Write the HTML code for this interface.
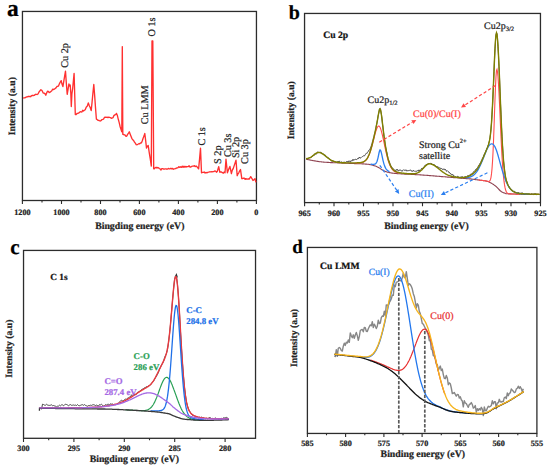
<!DOCTYPE html>
<html><head><meta charset="utf-8"><style>html,body{margin:0;padding:0;background:#fff;width:550px;height:466px;overflow:hidden}svg{display:block}text{text-rendering:geometricPrecision;stroke-width:0.22px}</style></head>
<body><svg width="550" height="466" viewBox="0 0 550 466">
<rect width="550" height="466" fill="#fff"/>
<rect x="22.45" y="11.45" width="234.0" height="189.05" fill="none" stroke="#2c2c2c" stroke-width="1.3"/>
<path d="M22.4,200.5v3.6 M61.5,200.5v3.6 M100.5,200.5v3.6 M139.4,200.5v3.6 M178.4,200.5v3.6 M217.4,200.5v3.6 M256.4,200.5v3.6 M42,200.5v1.9 M81,200.5v1.9 M120,200.5v1.9 M158.9,200.5v1.9 M197.9,200.5v1.9 M236.9,200.5v1.9 " stroke="#2c2c2c" stroke-width="1.1" fill="none"/>
<text x="22.4" y="215.0" text-anchor="middle" style="font-family:'Liberation Serif',serif;font-weight:bold;font-size:8.2px" fill="#222" stroke="#222">1200</text>
<text x="61.5" y="215.0" text-anchor="middle" style="font-family:'Liberation Serif',serif;font-weight:bold;font-size:8.2px" fill="#222" stroke="#222">1000</text>
<text x="100.5" y="215.0" text-anchor="middle" style="font-family:'Liberation Serif',serif;font-weight:bold;font-size:8.2px" fill="#222" stroke="#222">800</text>
<text x="139.4" y="215.0" text-anchor="middle" style="font-family:'Liberation Serif',serif;font-weight:bold;font-size:8.2px" fill="#222" stroke="#222">600</text>
<text x="178.4" y="215.0" text-anchor="middle" style="font-family:'Liberation Serif',serif;font-weight:bold;font-size:8.2px" fill="#222" stroke="#222">400</text>
<text x="217.4" y="215.0" text-anchor="middle" style="font-family:'Liberation Serif',serif;font-weight:bold;font-size:8.2px" fill="#222" stroke="#222">200</text>
<text x="256.4" y="215.0" text-anchor="middle" style="font-family:'Liberation Serif',serif;font-weight:bold;font-size:8.2px" fill="#222" stroke="#222">0</text>
<path d="M23.1,98.1 24,97.9 24.8,97.8 25.7,97.3 26.6,96.8 27.4,96.8 28.3,96.3 29.1,96.6 30,96.3 30.8,96.7 31.6,95.6 32.4,95.3 33.2,95.6 34,95.3 34.8,95 35.6,94.3 36.4,94.4 37.2,94.5 38,94 39,92 39.9,90.9 40.9,89.7 42,90.5 43.2,93 44.1,93.2 44.9,93.6 45.8,95.2 46.6,93.1 47.5,91.2 48.4,91.3 49.2,92.6 50.1,92.2 50.9,91.5 51.8,90.8 52.6,89.2 53.4,89.5 54.3,89.2 55.2,88.5 56,87.9 56.9,86.5 57.7,86.3 58.6,85.8 59.5,83.6 60.3,82 61.2,80.6 62,84.1 62.9,86.6 63.8,81.1 64.6,76.3 65.5,71.2 66.3,82.8 67.2,94.3 68.1,89.2 68.9,84 69.6,86 70.2,85 70.8,93 71.3,106.5 71.9,94 72.6,89 74.1,73.4 75.3,114.6 76.1,114.6 77,113.5 77.8,113.3 78.6,113 79.4,112.6 80.2,111.6 81.1,111.8 81.9,112 82.7,110.3 83.5,111 84.4,110.3 85.2,109.8 86.2,107.2 87.3,106.1 88.3,102.9 89.3,105.8 90.2,107.5 91.2,110.6 92.1,101.9 92.9,93.2 93.8,84.5 94.7,96.1 95.5,107.6 96.4,119.2 97.3,119.7 98.2,120.4 99.1,120.5 100,121 100.9,120.7 101.8,119.7 102.7,119.4 103.5,119.1 104.4,117.5 105.3,117.2 106.2,117.4 107,117.2 107.9,117.6 108.8,117.1 109.6,117.4 110.5,117.7 111.3,118.3 112.2,118 113.1,117.6 113.9,115.6 114.8,114.9 115.6,114.6 116.5,113.4 117.4,115.6 118.3,119.3 119.2,122.6 120,126.2 120.9,129 121.8,131.8 122.3,46.6 122.8,134.3 123.6,134.5 124.4,134.8 125.2,135.2 126,136.3 126.8,136 127.6,134.4 128.5,133.1 129.3,131.8 130.2,134.2 131,136.3 131.9,138.6 132.8,139.7 133.6,140.5 134.5,142.2 135.3,143.2 136.2,144.6 137.1,144.8 137.9,144.3 138.8,143.7 139.7,143.8 140.5,143 141.4,142.9 142.2,141 143.1,138.2 144,136.1 144.8,133.5 145.7,140.8 146.5,148.1 147.3,146.2 148.2,145.5 149.2,152.4 150.3,159.2 151.3,166.1 152,40.9 152.8,40.9 153.7,168.7 154.5,168.7 155.3,167.6 156.1,167.3 156.9,168 157.7,167.5 158.5,167.8 159.3,168.5 160.2,169 161,170 161.8,168.6 162.7,168.7 163.5,169 164.3,169.1 165.1,168.8 166,168.8 166.8,169.2 167.6,169.1 168.4,168.4 169.2,168.8 170.1,168.8 170.9,168.3 171.7,168.9 172.5,168.4 173.4,169.2 174.2,168.8 175,168.7 175.9,168.5 176.9,167.9 177.8,167.9 178.8,166.8 179.7,167.4 180.6,166.8 181.4,167.4 182.3,166.2 183.1,167.4 184,166.2 184.8,167.2 185.7,166.4 186.5,167 187.4,166.6 188.3,166.6 189.1,165.8 190,167 190.9,167 191.8,166.3 192.6,166.1 193.5,166.1 194.4,165.7 195.2,166.6 196.1,166 196.9,166.7 197.8,167.9 198.6,168.9 199.6,158.6 200.5,148.2 201.5,172.8 202.4,172.4 203.3,172.4 204.2,172 205.1,173.1 205.9,172.4 206.8,172.8 207.7,172.3 208.6,172.2 209.5,171.8 210.3,171.9 211.2,171.7 212.1,171.9 212.9,171.6 213.8,171.6 214.7,171 215.6,171.2 216.4,172.2 217.3,171.4 218.7,166.6 219.8,172.2 220.7,172 221.5,171.9 222.4,172.7 223.3,173.2 224.1,172 225,172.8 226,159.2 227.4,172.8 228.2,170.6 229.1,168.2 229.9,166.4 231.4,173.7 232.3,170.2 233.2,168.6 234.2,165.6 235.1,162.9 236,160.2 237.2,175.7 238,173.8 238.8,172.8 239.7,170.8 240.5,169.5 241.8,178.6 242.6,178.6 243.4,178.2 244.3,178.2 245.1,179.4 245.9,178.6 246.7,179.1 247.6,179 248.4,178.8 249.2,179.1 250.7,176.6 251.8,178.3 253,180.5 254,179.8 255,178.6 256,182.4" fill="none" stroke="#ff3030" stroke-width="1.35" stroke-linejoin="round"/>
<text x="14.8" y="106.2" text-anchor="middle" style="font-family:'Liberation Serif',serif;font-size:9.7px;font-weight:bold" fill="#222" stroke="#222" transform="rotate(-90 14.8 106.2)">Intensity (a.u)</text>
<text x="139.8" y="228.5" text-anchor="middle" style="font-family:'Liberation Serif',serif;font-size:9.8px;font-weight:bold" fill="#222" stroke="#222">Bingding energy (eV)</text>
<text x="12.9" y="16.1" text-anchor="middle" style="font-family:'Liberation Serif',serif;font-size:23.5px;font-weight:bold" fill="#000" stroke="#000">a</text>
<text x="67.8" y="67.8" text-anchor="start" style="font-family:'Liberation Serif',serif;font-size:10.2px" fill="#222" stroke="#222" transform="rotate(-90 67.8 67.8)">Cu 2p</text>
<text x="155.2" y="36.4" text-anchor="start" style="font-family:'Liberation Serif',serif;font-size:10.2px" fill="#222" stroke="#222" transform="rotate(-90 155.2 36.4)">O 1s</text>
<text x="148" y="124.2" text-anchor="start" style="font-family:'Liberation Serif',serif;font-size:10.2px" fill="#222" stroke="#222" transform="rotate(-90 148 124.2)">Cu LMM</text>
<text x="204.9" y="145.6" text-anchor="start" style="font-family:'Liberation Serif',serif;font-size:10.2px" fill="#222" stroke="#222" transform="rotate(-90 204.9 145.6)">C 1s</text>
<text x="221.4" y="163.9" text-anchor="start" style="font-family:'Liberation Serif',serif;font-size:10.2px" fill="#222" stroke="#222" transform="rotate(-90 221.4 163.9)">S 2p</text>
<text x="231" y="157.1" text-anchor="start" style="font-family:'Liberation Serif',serif;font-size:10.2px" fill="#222" stroke="#222" transform="rotate(-90 231 157.1)">Cu 3s</text>
<text x="239.1" y="158.1" text-anchor="start" style="font-family:'Liberation Serif',serif;font-size:10.2px" fill="#222" stroke="#222" transform="rotate(-90 239.1 158.1)">Si 2p</text>
<text x="247.8" y="163.9" text-anchor="start" style="font-family:'Liberation Serif',serif;font-size:10.2px" fill="#222" stroke="#222" transform="rotate(-90 247.8 163.9)">Cu 3p</text>
<rect x="304.55" y="13.45" width="235.90000000000003" height="189.15" fill="none" stroke="#2c2c2c" stroke-width="1.3"/>
<path d="M304.6,202.6v3.6 M334,202.6v3.6 M363.5,202.6v3.6 M393,202.6v3.6 M422.5,202.6v3.6 M452,202.6v3.6 M481.5,202.6v3.6 M511,202.6v3.6 M540.5,202.6v3.6 M319.3,202.6v1.9 M348.8,202.6v1.9 M378.3,202.6v1.9 M407.8,202.6v1.9 M437.2,202.6v1.9 M466.7,202.6v1.9 M496.2,202.6v1.9 M525.7,202.6v1.9 " stroke="#2c2c2c" stroke-width="1.1" fill="none"/>
<text x="304.6" y="215.9" text-anchor="middle" style="font-family:'Liberation Serif',serif;font-weight:bold;font-size:8.2px" fill="#222" stroke="#222">965</text>
<text x="334" y="215.9" text-anchor="middle" style="font-family:'Liberation Serif',serif;font-weight:bold;font-size:8.2px" fill="#222" stroke="#222">960</text>
<text x="363.5" y="215.9" text-anchor="middle" style="font-family:'Liberation Serif',serif;font-weight:bold;font-size:8.2px" fill="#222" stroke="#222">955</text>
<text x="393" y="215.9" text-anchor="middle" style="font-family:'Liberation Serif',serif;font-weight:bold;font-size:8.2px" fill="#222" stroke="#222">950</text>
<text x="422.5" y="215.9" text-anchor="middle" style="font-family:'Liberation Serif',serif;font-weight:bold;font-size:8.2px" fill="#222" stroke="#222">945</text>
<text x="452" y="215.9" text-anchor="middle" style="font-family:'Liberation Serif',serif;font-weight:bold;font-size:8.2px" fill="#222" stroke="#222">940</text>
<text x="481.5" y="215.9" text-anchor="middle" style="font-family:'Liberation Serif',serif;font-weight:bold;font-size:8.2px" fill="#222" stroke="#222">935</text>
<text x="511" y="215.9" text-anchor="middle" style="font-family:'Liberation Serif',serif;font-weight:bold;font-size:8.2px" fill="#222" stroke="#222">930</text>
<text x="540.5" y="215.9" text-anchor="middle" style="font-family:'Liberation Serif',serif;font-weight:bold;font-size:8.2px" fill="#222" stroke="#222">925</text>
<path d="M306,159.3 306.5,159.3 307,159.4 307.5,159.5 308,159.6 308.5,159.7 309,159.8 309.5,159.9 310,160 310.5,160.1 311,160.2 311.5,160.3 312,160.4 312.5,160.5 313,160.6 313.5,160.7 314,160.8 314.5,160.9 315,160.9 315.5,161 316,161.1 316.5,161.2 317,161.3 317.5,161.4 318,161.4 318.5,161.5 319,161.6 319.5,161.7 320,161.7 320.5,161.8 321,161.8 321.5,161.9 322,162 322.5,162 323,162 323.5,162.1 324,162.1 324.5,162.2 325,162.2 325.5,162.2 326,162.3 326.5,162.3 327,162.4 327.5,162.4 328,162.4 328.5,162.4 329,162.5 329.5,162.5 330,162.5 330.5,162.6 331,162.6 331.5,162.6 332,162.6 332.5,162.6 333,162.7 333.5,162.7 334,162.7 334.5,162.7 335,162.8 335.5,162.8 336,162.8 336.5,162.8 337,162.8 337.5,162.9 338,162.9 338.5,162.9 339,162.9 339.5,162.9 340,163 340.5,163 341,163 341.5,163 342,163.1 342.5,163.1 343,163.1 343.5,163.1 344,163.2 344.5,163.2 345,163.2 345.5,163.2 346,163.2 346.5,163.3 347,163.3 347.5,163.3 348,163.3 348.5,163.3 349,163.4 349.5,163.4 350,163.4 350.5,163.4 351,163.4 351.5,163.5 352,163.5 352.5,163.5 353,163.5 353.5,163.5 354,163.5 354.5,163.6 355,163.6 355.5,163.6 356,163.6 356.5,163.6 357,163.7 357.5,163.7 358,163.7 358.5,163.7 359,163.7 359.5,163.8 360,163.8 360.5,163.8 361,163.8 361.5,163.8 362,163.9 362.5,163.9 363,163.9 363.5,163.9 364,164 364.5,164 365,164 365.5,164.1 366,164.1 366.5,164.1 367,164.2 367.5,164.2 368,164.3 368.5,164.3 369,164.4 369.5,164.5 370,164.6 370.5,164.7 371,164.8 371.5,164.9 372,165 372.5,165.1 373,165.3 373.5,165.4 374,165.6 374.5,165.7 375,165.9 375.5,166.1 376,166.3 376.5,166.5 377,166.7 377.5,167 378,167.2 378.5,167.5 379,167.8 379.5,168.1 380,168.4 380.5,168.8 381,169.1 381.5,169.5 382,169.8 382.5,170.1 383,170.3 383.5,170.5 384,170.7 384.5,171 385,171.2 385.5,171.4 386,171.6 386.5,171.7 387,171.9 387.5,172.1 388,172.2 388.5,172.3 389,172.5 389.5,172.6 390,172.7 390.5,172.8 391,172.9 391.5,173 392,173.1 392.5,173.1 393,173.2 393.5,173.3 394,173.3 394.5,173.4 395,173.4 395.5,173.5 396,173.5 396.5,173.5 397,173.6 397.5,173.6 398,173.7 398.5,173.7 399,173.7 399.5,173.8 400,173.8 400.5,173.8 401,173.9 401.5,173.9 402,173.9 402.5,174 403,174 403.5,174 404,174 404.5,174.1 405,174.1 405.5,174.1 406,174.1 406.5,174.2 407,174.2 407.5,174.2 408,174.2 408.5,174.3 409,174.3 409.5,174.3 410,174.3 410.5,174.3 411,174.4 411.5,174.4 412,174.4 412.5,174.4 413,174.5 413.5,174.5 414,174.5 414.5,174.5 415,174.6 415.5,174.6 416,174.6 416.5,174.7 417,174.7 417.5,174.7 418,174.7 418.5,174.8 419,174.8 419.5,174.8 420,174.9 420.5,174.9 421,174.9 421.5,175 422,175 422.5,175 423,175.1 423.5,175.1 424,175.1 424.5,175.2 425,175.2 425.5,175.3 426,175.3 426.5,175.3 427,175.4 427.5,175.4 428,175.4 428.5,175.5 429,175.5 429.5,175.6 430,175.6 430.5,175.6 431,175.7 431.5,175.7 432,175.8 432.5,175.8 433,175.9 433.5,175.9 434,175.9 434.5,176 435,176 435.5,176.1 436,176.1 436.5,176.1 437,176.2 437.5,176.2 438,176.3 438.5,176.3 439,176.3 439.5,176.4 440,176.4 440.5,176.5 441,176.5 441.5,176.6 442,176.6 442.5,176.6 443,176.7 443.5,176.7 444,176.8 444.5,176.8 445,176.8 445.5,176.9 446,176.9 446.5,177 447,177 447.5,177.1 448,177.1 448.5,177.1 449,177.2 449.5,177.2 450,177.3 450.5,177.3 451,177.4 451.5,177.4 452,177.4 452.5,177.5 453,177.5 453.5,177.6 454,177.6 454.5,177.6 455,177.7 455.5,177.7 456,177.8 456.5,177.8 457,177.8 457.5,177.9 458,177.9 458.5,178 459,178 459.5,178 460,178.1 460.5,178.1 461,178.2 461.5,178.2 462,178.2 462.5,178.3 463,178.3 463.5,178.4 464,178.4 464.5,178.4 465,178.5 465.5,178.5 466,178.6 466.5,178.6 467,178.6 467.5,178.7 468,178.7 468.5,178.8 469,178.8 469.5,178.9 470,178.9 470.5,178.9 471,179 471.5,179.1 472,179.1 472.5,179.2 473,179.2 473.5,179.3 474,179.4 474.5,179.4 475,179.5 475.5,179.6 476,179.7 476.5,179.7 477,179.8 477.5,179.9 478,179.9 478.5,180 479,180 479.5,180.1 480,180.2 480.5,180.2 481,180.3 481.5,180.3 482,180.4 482.5,180.5 483,180.5 483.5,180.6 484,180.7 484.5,180.7 485,180.8 485.5,180.9 486,181 486.5,181.1 487,181.2 487.5,181.4 488,181.5 488.5,181.7 489,182 489.5,182.2 490,182.5 490.5,182.8 491,183 491.5,183.3 492,183.6 492.5,183.9 493,184.2 493.5,184.5 494,184.9 494.5,185.2 495,185.6 495.5,186 496,186.4 496.5,186.9 497,187.4 497.5,187.9 498,188.4 498.5,189 499,189.5 499.5,190 500,190.5 500.5,191 501,191.3 501.5,191.7 502,192 502.5,192.3 503,192.5 503.5,192.7 504,192.9 504.5,193 505,193.2 505.5,193.5 506,193.7 506.5,193.8 507,193.8 507.5,193.8 508,193.8 508.5,193.9 509,193.9 509.5,193.9 510,193.9 510.5,193.9 511,193.9 511.5,194 512,194 512.5,194 513,194 513.5,194 514,194 514.5,194 515,194 515.5,194 516,194.1 516.5,194.1 517,194.1 517.5,194.1 518,194.1 518.5,194.1 519,194.1 519.5,194.1 520,194.1 520.5,194.1 521,194.1 521.5,194.2 522,194.2 522.5,194.2 523,194.2 523.5,194.2 524,194.2 524.5,194.2 525,194.2 525.5,194.2 526,194.2 526.5,194.2 527,194.2 527.5,194.2 528,194.2 528.5,194.3 529,194.3 529.5,194.3 530,194.3 530.5,194.3 531,194.3 531.5,194.3 532,194.3 532.5,194.3 533,194.3 533.5,194.3 534,194.3 534.5,194.3 535,194.3 535.5,194.3 536,194.4 536.5,194.4 537,194.4 537.5,194.4 538,194.4 538.5,194.4 539,194.4 539.5,194.4" fill="none" stroke="#8e4250" stroke-width="1.1"/>
<path d="M306,158.5 306.5,158.5 307,158.5 307.5,159 308,158.7 308.5,158.4 309,157.8 309.5,157.2 310,158 310.5,157.8 311,157 311.5,157 312,156.7 312.5,156.4 313,156 313.5,155 314,155.5 314.5,153.8 315,154.4 315.5,153.9 316,153.7 316.5,153.9 317,153.5 317.5,152.1 318,151.7 318.5,152.8 319,152 319.5,152.5 320,153 320.5,152.1 321,152.1 321.5,153.4 322,153.5 322.5,153.7 323,154.2 323.5,154.1 324,154.2 324.5,155.2 325,155.2 325.5,155.3 326,156.7 326.5,156.8 327,157.4 327.5,157.2 328,157.8 328.5,158 329,158.4 329.5,159.2 330,159.1 330.5,160 331,160.2 331.5,161.3 332,160 332.5,161.2 333,161 333.5,161.2 334,160.8 334.5,161.4 335,162 335.5,161.8 336,162 336.5,161.9 337,162.6 337.5,162.2 338,161.2 338.5,162 339,161.4 339.5,160.9 340,162.1 340.5,163 341,162.4 341.5,161.8 342,161.9 342.5,162.9 343,162.4 343.5,162.3 344,162.2 344.5,162.2 345,162.5 345.5,162.4 346,162.1 346.5,161.5 347,162.1 347.5,161.5 348,162.2 348.5,161 349,161.4 349.5,161.4 350,160.7 350.5,161.9 351,161.6 351.5,160.6 352,161 352.5,160.7 353,159.2 353.5,160.3 354,160 354.5,159.9 355,159.2 355.5,159.3 356,159.2 356.5,159.6 357,159 357.5,158.7 358,159.1 358.5,158 359,157.9 359.5,157 360,158.3 360.5,157.9 361,157.6 361.5,157.3 362,156.8 362.5,156.6 363,156.1 363.5,155.8 364,155.6 364.5,155.9 365,155.1 365.5,154.4 366,153.6 366.5,153.1 367,153.5 367.5,152.5 368,151.8 368.5,151 369,150 369.5,149.7 370,149.3 370.5,147.7 371,146.6 371.5,145.2 372,143.8 372.5,141.4 373,140.2 373.5,138 374,136.7 374.5,133.9 375,132.4 375.5,130.6 376,127.4 376.5,124.9 377,122.6 377.5,119.8 378,116.4 378.5,114.1 379,112.2 379.5,109.1 380,108.5 380.5,109.3 381,112.2 381.5,114.8 382,118.8 382.5,124 383,127.3 383.5,132.3 384,136.4 384.5,139.5 385,143.1 385.5,146.8 386,148.7 386.5,151.2 387,153.2 387.5,156 388,158.6 388.5,160.1 389,160.9 389.5,162.3 390,163.7 390.5,165.1 391,165.9 391.5,166.9 392,167.6 392.5,167.9 393,168.6 393.5,169.1 394,169.3 394.5,169.8 395,170.7 395.5,170.3 396,170.2 396.5,169.5 397,170.5 397.5,169.5 398,169.8 398.5,170.8 399,170.8 399.5,170.4 400,169.7 400.5,170.3 401,170.1 401.5,170.7 402,171.4 402.5,170.5 403,170 403.5,169.8 404,170.3 404.5,170.3 405,169.8 405.5,170.4 406,169.8 406.5,170.9 407,170.9 407.5,170.9 408,170.2 408.5,170.7 409,170.5 409.5,170.4 410,170.5 410.5,170.1 411,170.1 411.5,171.2 412,170.8 412.5,171.1 413,171.5 413.5,170.3 414,170.8 414.5,171.3 415,171.4 415.5,171.1 416,171.7 416.5,171.3 417,170.6 417.5,170.7 418,171.3 418.5,171 419,169.8 419.5,171 420,170.4 420.5,170.4 421,169.3 421.5,169 422,168.2 422.5,169.4 423,167.7 423.5,168.1 424,166.6 424.5,166.5 425,165.2 425.5,165.3 426,165.5 426.5,164.1 427,164.9 427.5,164.2 428,163.4 428.5,163.5 429,163.4 429.5,163.6 430,163.4 430.5,163.4 431,163.8 431.5,163.6 432,163.6 432.5,164.4 433,165 433.5,164.1 434,165.1 434.5,165 435,165.2 435.5,166.3 436,165.9 436.5,167.1 437,166.3 437.5,167.1 438,167.1 438.5,167.1 439,167.9 439.5,167.8 440,168.4 440.5,168.3 441,168 441.5,168.6 442,168.9 442.5,169.5 443,168.8 443.5,169.4 444,168.8 444.5,170.1 445,169.6 445.5,169.5 446,170.5 446.5,171.4 447,170.5 447.5,171 448,171.5 448.5,171.7 449,172.7 449.5,172.6 450,173 450.5,173.9 451,173.7 451.5,174.6 452,174.3 452.5,174.5 453,174.5 453.5,176.5 454,175.8 454.5,176.3 455,176.4 455.5,176.6 456,176.8 456.5,177.7 457,176.6 457.5,176.4 458,176.8 458.5,176.7 459,177.7 459.5,177.8 460,177 460.5,176.9 461,177.4 461.5,178.2 462,176.3 462.5,177.7 463,177 463.5,177.9 464,176.9 464.5,177.1 465,176.5 465.5,176.6 466,177.5 466.5,177.1 467,176.4 467.5,176 468,175.3 468.5,175.7 469,175.6 469.5,175.3 470,175 470.5,174.2 471,174.3 471.5,173.9 472,174.1 472.5,173.9 473,172.6 473.5,171.8 474,171.6 474.5,170.9 475,170.3 475.5,170.1 476,169.1 476.5,169.2 477,168.2 477.5,167.7 478,166.8 478.5,165.8 479,164.9 479.5,164.4 480,163.4 480.5,162.9 481,161.8 481.5,160.2 482,159.8 482.5,158.1 483,157.4 483.5,156.4 484,154.5 484.5,154.3 485,153.2 485.5,151.9 486,150.6 486.5,149.5 487,148.1 487.5,147.2 488,145.7 488.5,144.6 489,142.3 489.5,140.7 490,137.8 490.5,133.9 491,128.8 491.5,123 492,114.2 492.5,105.8 493,95 493.5,83.4 494,71.3 494.5,59 495,48.6 495.5,40.6 496,35 496.5,32.9 497,33.8 497.5,39.2 498,46.6 498.5,55.8 499,66.4 499.5,77.6 500,91.4 500.5,103.5 501,114.5 501.5,127.1 502,136.4 502.5,145.5 503,153.5 503.5,160.8 504,165.4 504.5,170.1 505,174.4 505.5,177.4 506,179.1 506.5,180.9 507,182 507.5,183.6 508,185.2 508.5,186.1 509,186.9 509.5,188 510,187.9 510.5,188.8 511,189.7 511.5,190.2 512,190.9 512.5,191 513,191 513.5,191.6 514,191.3 514.5,191.3 515,192.5 515.5,192.5 516,192.8 516.5,192.1 517,192.8 517.5,192.8 518,192.8 518.5,192.3 519,193.2 519.5,193.9 520,193.7 520.5,193.3 521,193.6 521.5,194 522,192.5 522.5,193.7 523,194 523.5,194.1 524,194.6 524.5,194.4 525,194 525.5,194.1 526,194.3 526.5,193.7 527,194 527.5,194.4 528,194.9 528.5,194 529,194 529.5,194.1 530,194.7 530.5,194.1 531,194.7 531.5,193.7 532,194 532.5,194 533,194.5 533.5,194.6 534,193.5 534.5,193.8 535,194.3 535.5,193.9 536,193.5 536.5,194.7 537,194.4 537.5,194.4 538,194 538.5,194.7 539,194.1 539.5,194.8" fill="none" stroke="#3a3a3a" stroke-width="0.9"/>
<path d="M355.5,163 356,163 356.5,163 357,163 357.5,163 358,162.9 358.5,162.9 359,162.9 359.5,162.8 360,162.8 360.5,162.7 361,162.7 361.5,162.6 362,162.5 362.5,162.3 363,162.2 363.5,162 364,161.7 364.5,161.4 365,161.1 365.5,160.7 366,160.2 366.5,159.6 367,158.9 367.5,158.1 368,157.2 368.5,156.2 369,155.1 369.5,153.9 370,152.5 370.5,151 371,149.4 371.5,147.7 372,145.9 372.5,144 373,142.1 373.5,140.1 374,138.1 374.5,136.1 375,134.2 375.5,132.4 376,130.7 376.5,129.3 377,128 377.5,127 378,126.3 378.5,126 379,126 379.5,126.5 380,127.3 380.5,128.4 381,129.9 381.5,131.6 382,133.5 382.5,135.6 383,137.9 383.5,140.2 384,142.5 384.5,144.9 385,147.3 385.5,149.7 386,151.9 386.5,154.1 387,156.1 387.5,158 388,159.8 388.5,161.5 389,162.9 389.5,164.3 390,165.5 390.5,166.6 391,167.5 391.5,168.3 392,169 392.5,169.7 393,170.2 393.5,170.7 394,171 394.5,171.4 395,171.7 395.5,171.9 396,172.1 396.5,172.3 397,172.4 397.5,172.6 398,172.7 398.5,172.8 399,172.9 399.5,173" fill="none" stroke="#ff4d4d" stroke-width="1.1"/>
<path d="M478.5,180 479,180 479.5,180.1 480,180.2 480.5,180.2 481,180.3 481.5,180.3 482,180.4 482.5,180.5 483,180.5 483.5,180.6 484,180.7 484.5,180.7 485,180.8 485.5,180.9 486,181 486.5,181.1 487,181.2 487.5,181.3 488,181.4 488.5,181.5 489,181.5 489.5,181.2 490,180.6 490.5,179.4 491,177.3 491.5,173.9 492,168.9 492.5,161.9 493,152.7 493.5,141.3 494,128 494.5,113.6 495,99.3 495.5,86.4 496,76.4 496.5,70.5 497,69.4 497.5,71.9 498,76.8 498.5,84.1 499,93.1 499.5,103.5 500,114.6 500.5,125.9 501,136.8 501.5,147 502,156.3 502.5,164.3 503,171.1 503.5,176.7 504,181.2 504.5,184.7 505,187.4 505.5,189.6 506,191.1 506.5,192.1 507,192.7 507.5,193.1 508,193.4 508.5,193.6 509,193.7 509.5,193.8 510,193.9 510.5,193.9 511,193.9 511.5,194 512,194 512.5,194 513,194 513.5,194 514,194 514.5,194 515,194 515.5,194 516,194.1 516.5,194.1 517,194.1 517.5,194.1 518,194.1 518.5,194.1 519,194.1 519.5,194.1" fill="none" stroke="#ff4d4d" stroke-width="1.1"/>
<path d="M370.5,164.1 371,164.2 371.5,164.2 372,164.3 372.5,164.3 373,164.3 373.5,164.3 374,164.3 374.5,164.2 375,164.1 375.5,163.8 376,163.3 376.5,162.5 377,161.4 377.5,159.8 378,157.8 378.5,155.5 379,153 379.5,151 380,149.9 380.5,150.2 381,151.5 381.5,153.4 382,155.7 382.5,158 383,160.3 383.5,162.3 384,164.1 384.5,165.6 385,166.9 385.5,167.9 386,168.8 386.5,169.4 387,170 387.5,170.4 388,170.8 388.5,171.1 389,171.4 389.5,171.6" fill="none" stroke="#2b7ff0" stroke-width="1.3"/>
<path d="M465.5,177.8 466,177.8 466.5,177.8 467,177.7 467.5,177.6 468,177.6 468.5,177.5 469,177.3 469.5,177.2 470,177.1 470.5,176.9 471,176.7 471.5,176.4 472,176.2 472.5,175.9 473,175.6 473.5,175.2 474,174.8 474.5,174.4 475,173.9 475.5,173.3 476,172.7 476.5,172.1 477,171.4 477.5,170.6 478,169.8 478.5,169 479,168 479.5,167 480,166 480.5,164.9 481,163.8 481.5,162.6 482,161.4 482.5,160.2 483,159 483.5,157.7 484,156.4 484.5,155.2 485,153.9 485.5,152.7 486,151.5 486.5,150.3 487,149.2 487.5,148.2 488,147.2 488.5,146.4 489,145.7 489.5,145.1 490,144.6 490.5,144.2 491,144 491.5,143.8 492,143.8 492.5,144 493,144.3 493.5,144.7 494,145.3 494.5,146 495,146.9 495.5,148 496,149.2 496.5,150.5 497,152 497.5,153.6 498,155.3 498.5,157.1 499,158.9 499.5,160.7 500,162.5 500.5,164.4 501,166.2 501.5,167.9 502,169.6 502.5,171.3 503,172.9 503.5,174.4 504,175.9 504.5,177.3 505,178.6 505.5,180.1 506,181.4 506.5,182.5 507,183.5 507.5,184.5 508,185.4 508.5,186.2 509,186.9 509.5,187.7 510,188.3 510.5,188.9 511,189.5 511.5,189.9 512,190.4 512.5,190.8 513,191.2 513.5,191.5 514,191.8 514.5,192.1 515,192.3 515.5,192.5 516,192.7 516.5,192.9 517,193 517.5,193.1 518,193.2 518.5,193.3 519,193.4 519.5,193.5 520,193.6 520.5,193.6 521,193.7 521.5,193.7 522,193.8 522.5,193.8 523,193.8 523.5,193.9 524,193.9 524.5,193.9 525,193.9 525.5,193.9 526,194 526.5,194 527,194 527.5,194 528,194 528.5,194 529,194.1 529.5,194.1" fill="none" stroke="#2b7ff0" stroke-width="1.3"/>
<path d="M306,158.6 306.5,158.6 307,158.5 307.5,158.5 308,158.3 308.5,158.2 309,158 309.5,157.8 310,157.6 310.5,157.4 311,157.1 311.5,156.7 312,156.4 312.5,156 313,155.6 313.5,155.2 314,154.8 314.5,154.4 315,154 315.5,153.7 316,153.3 316.5,153 317,152.8 317.5,152.6 318,152.5 318.5,152.5 319,152.5 319.5,152.5 320,152.7 320.5,152.8 321,153 321.5,153.3 322,153.5 322.5,153.8 323,154.1 323.5,154.5 324,154.9 324.5,155.2 325,155.6 325.5,156 326,156.4 326.5,156.9 327,157.3 327.5,157.7 328,158.1 328.5,158.4 329,158.8 329.5,159.2 330,159.5 330.5,159.8 331,160.1 331.5,160.4 332,160.6 332.5,160.9 333,161.1 333.5,161.3 334,161.4 334.5,161.6 335,161.8 335.5,161.9 336,162 336.5,162.1 337,162.2 337.5,162.3 338,162.3 338.5,162.4 339,162.5 339.5,162.5 340,162.6 340.5,162.6 341,162.6 341.5,162.7 342,162.7 342.5,162.7 343,162.8 343.5,162.8 344,162.8 344.5,162.8 345,162.8 345.5,162.8 346,162.9 346.5,162.9 347,162.9 347.5,162.9 348,162.9 348.5,162.9 349,162.9 349.5,162.9 350,162.9 350.5,162.9 351,162.9 351.5,162.9 352,162.9 352.5,162.9 353,162.9 353.5,162.9 354,162.9 354.5,162.9 355,162.9 355.5,162.9 356,162.9 356.5,162.9 357,162.9 357.5,162.8 358,162.8 358.5,162.8 359,162.7 359.5,162.7 360,162.7 360.5,162.6 361,162.5 361.5,162.4 362,162.3 362.5,162.1 363,162 363.5,161.8 364,161.5 364.5,161.2 365,160.8 365.5,160.4 366,159.9 366.5,159.3 367,158.6 367.5,157.8 368,156.9 368.5,155.8 369,154.7 369.5,153.4 370,152 370.5,150.5 371,148.8 371.5,147 372,145.2 372.5,143.2 373,141.1 373.5,139 374,136.8 374.5,134.6 375,132.3 375.5,130 376,127.7 376.5,125.2 377,122.6 377.5,119.8 378,116.9 378.5,114 379,111.3 379.5,109.3 380,108.7 380.5,109.8 381,112.2 381.5,115.5 382,119.4 382.5,123.6 383,127.8 383.5,131.9 384,135.9 384.5,139.6 385,143 385.5,146.2 386,149.1 386.5,151.8 387,154.2 387.5,156.4 388,158.4 388.5,160.2 389,161.8 389.5,163.3 390,164.6 390.5,165.7 391,166.7 391.5,167.6 392,168.4 392.5,169 393,169.6 393.5,170.1 394,170.5 394.5,170.9 395,171.2 395.5,171.5 396,171.7 396.5,171.9 397,172.1 397.5,172.2 398,172.4 398.5,172.5 399,172.6 399.5,172.7 400,172.8 400.5,172.9 401,172.9 401.5,173 402,173.1 402.5,173.1 403,173.2 403.5,173.3 404,173.3 404.5,173.4 405,173.4 405.5,173.5 406,173.5 406.5,173.5 407,173.6 407.5,173.6 408,173.7 408.5,173.7 409,173.7 409.5,173.8 410,173.8 410.5,173.8 411,173.8 411.5,173.8 412,173.8 412.5,173.8 413,173.8 413.5,173.8 414,173.7 414.5,173.7 415,173.6 415.5,173.5 416,173.4 416.5,173.3 417,173.1 417.5,172.9 418,172.7 418.5,172.4 419,172.1 419.5,171.8 420,171.4 420.5,171 421,170.6 421.5,170.1 422,169.7 422.5,169.1 423,168.6 423.5,168.1 424,167.5 424.5,167 425,166.5 425.5,166 426,165.5 426.5,165.1 427,164.7 427.5,164.4 428,164.1 428.5,164 429,163.9 429.5,163.8 430,163.9 430.5,163.9 431,164.1 431.5,164.2 432,164.4 432.5,164.6 433,164.8 433.5,165 434,165.3 434.5,165.6 435,165.9 435.5,166.3 436,166.6 436.5,167 437,167.4 437.5,167.8 438,168.2 438.5,168.6 439,169 439.5,169.4 440,169.8 440.5,170.2 441,170.6 441.5,171 442,171.4 442.5,171.8 443,172.1 443.5,172.5 444,172.8 444.5,173.2 445,173.5 445.5,173.8 446,174.1 446.5,174.3 447,174.6 447.5,174.8 448,175.1 448.5,175.3 449,175.5 449.5,175.7 450,175.9 450.5,176 451,176.2 451.5,176.3 452,176.4 452.5,176.6 453,176.7 453.5,176.8 454,176.9 454.5,177 455,177.1 455.5,177.1 456,177.2 456.5,177.3 457,177.3 457.5,177.4 458,177.4 458.5,177.5 459,177.5 459.5,177.5 460,177.6 460.5,177.6 461,177.6 461.5,177.6 462,177.6 462.5,177.5 463,177.5 463.5,177.5 464,177.4 464.5,177.4 465,177.3 465.5,177.2 466,177.1 466.5,177 467,176.8 467.5,176.7 468,176.5 468.5,176.3 469,176.1 469.5,175.8 470,175.6 470.5,175.3 471,175 471.5,174.7 472,174.4 472.5,174 473,173.6 473.5,173.2 474,172.8 474.5,172.3 475,171.8 475.5,171.3 476,170.7 476.5,170.1 477,169.5 477.5,168.8 478,168 478.5,167.2 479,166.4 479.5,165.5 480,164.6 480.5,163.6 481,162.6 481.5,161.5 482,160.4 482.5,159.3 483,158.1 483.5,156.9 484,155.7 484.5,154.5 485,153.3 485.5,152.2 486,151 486.5,149.8 487,148.6 487.5,147.4 488,146.1 488.5,144.6 489,142.8 489.5,140.6 490,137.8 490.5,134 491,129 491.5,122.7 492,114.9 492.5,105.6 493,94.9 493.5,83.2 494,71.1 494.5,59.3 495,48.8 495.5,40.3 496,34.8 496.5,32.8 497,34.5 497.5,39 498,46.1 498.5,55.3 499,66.3 499.5,78.3 500,90.9 500.5,103.5 501,115.6 501.5,126.9 502,137.1 502.5,146 503,153.7 503.5,160.2 504,165.6 504.5,170 505,173.6 505.5,176.7 506,179.2 506.5,181 507,182.6 507.5,183.9 508,185 508.5,186 509,186.8 509.5,187.6 510,188.2 510.5,188.9 511,189.4 511.5,189.9 512,190.4 512.5,190.8 513,191.1 513.5,191.5 514,191.8 514.5,192 515,192.3 515.5,192.5 516,192.7 516.5,192.8 517,193 517.5,193.1 518,193.2 518.5,193.3 519,193.4 519.5,193.5 520,193.5 520.5,193.6 521,193.6 521.5,193.7 522,193.7 522.5,193.8 523,193.8 523.5,193.8 524,193.9 524.5,193.9 525,193.9 525.5,193.9 526,193.9 526.5,194 527,194 527.5,194 528,194 528.5,194 529,194 529.5,194 530,194.1 530.5,194.1 531,194.1 531.5,194.1 532,194.1 532.5,194.1 533,194.1 533.5,194.1 534,194.2 534.5,194.2 535,194.2 535.5,194.2 536,194.2 536.5,194.2 537,194.2 537.5,194.2 538,194.2 538.5,194.2 539,194.3 539.5,194.3" fill="none" stroke="#808000" stroke-width="1.4"/>
<text x="294.1" y="110.2" text-anchor="middle" style="font-family:'Liberation Serif',serif;font-size:9.7px;font-weight:bold" fill="#222" stroke="#222" transform="rotate(-90 294.1 110.2)">Intensity (a.u)</text>
<text x="426.5" y="228.6" text-anchor="middle" style="font-family:'Liberation Serif',serif;font-size:9.8px;font-weight:bold" fill="#222" stroke="#222">Binding energy (eV)</text>
<text x="294.4" y="19" text-anchor="middle" style="font-family:'Liberation Serif',serif;font-size:20px;font-weight:bold" fill="#000" stroke="#000">b</text>
<text x="323.2" y="38" text-anchor="start" style="font-family:'Liberation Serif',serif;font-size:9.7px;font-weight:bold" fill="#111" stroke="#111">Cu 2p</text>
<text x="367.5" y="103.2" style="font-family:'Liberation Serif',serif;font-size:10px" fill="#222" stroke="#222">Cu2p<tspan font-size="6.6" dy="2.2">1/2</tspan></text>
<text x="484" y="28.7" style="font-family:'Liberation Serif',serif;font-size:10px" fill="#222" stroke="#222">Cu2p<tspan font-size="6.6" dy="2.2">3/2</tspan></text>
<text x="413" y="116.7" text-anchor="start" style="font-family:'Liberation Serif',serif;font-size:10px" fill="#ff4545" stroke="#ff4545">Cu(0)/Cu(I)</text>
<text x="419" y="147.8" style="font-family:'Liberation Serif',serif;font-size:10px" fill="#222" stroke="#222">Strong Cu<tspan font-size="6.4" dy="-4.4">2+</tspan></text>
<text x="419" y="159" text-anchor="start" style="font-family:'Liberation Serif',serif;font-size:10px" fill="#222" stroke="#222">satellite</text>
<text x="408.8" y="196.5" text-anchor="start" style="font-family:'Liberation Serif',serif;font-size:10px" fill="#2b7ff0" stroke="#2b7ff0">Cu(II)</text>
<path d="M379.3,142.2 L412.4,122.2" stroke="#ff4545" stroke-width="1.2" stroke-dasharray="3.2 2.2" fill="none"/>
<path d="M416.3,119.9 L413.6,124.1 L411.3,120.3 Z" fill="#ff4545"/>
<path d="M495.4,85.6 L464.8,105.2" stroke="#ff4545" stroke-width="1.2" stroke-dasharray="3.2 2.2" fill="none"/>
<path d="M461,107.6 L463.6,103.3 L466,107 Z" fill="#ff4545"/>
<path d="M379.8,165.3 L396.7,190.2" stroke="#2b7ff0" stroke-width="1.2" stroke-dasharray="3.2 2.2" fill="none"/>
<path d="M399.2,193.9 L394.9,191.4 L398.5,188.9 Z" fill="#2b7ff0"/>
<path d="M487.4,172.8 L444.9,193" stroke="#2b7ff0" stroke-width="1.2" stroke-dasharray="3.2 2.2" fill="none"/>
<path d="M440.8,194.9 L443.9,191 L445.8,195 Z" fill="#2b7ff0"/>
<rect x="23.53" y="250.43" width="232.0" height="187.87" fill="none" stroke="#2c2c2c" stroke-width="1.3"/>
<path d="M23.5,438.3v3.6 M73.9,438.3v3.6 M124.3,438.3v3.6 M174.7,438.3v3.6 M225.1,438.3v3.6 M48.7,438.3v1.9 M99.1,438.3v1.9 M149.5,438.3v1.9 M199.9,438.3v1.9 " stroke="#2c2c2c" stroke-width="1.1" fill="none"/>
<text x="23.5" y="451.0" text-anchor="middle" style="font-family:'Liberation Serif',serif;font-weight:bold;font-size:8.2px" fill="#222" stroke="#222">300</text>
<text x="73.9" y="451.0" text-anchor="middle" style="font-family:'Liberation Serif',serif;font-weight:bold;font-size:8.2px" fill="#222" stroke="#222">295</text>
<text x="124.3" y="451.0" text-anchor="middle" style="font-family:'Liberation Serif',serif;font-weight:bold;font-size:8.2px" fill="#222" stroke="#222">290</text>
<text x="174.7" y="451.0" text-anchor="middle" style="font-family:'Liberation Serif',serif;font-weight:bold;font-size:8.2px" fill="#222" stroke="#222">285</text>
<text x="225.1" y="451.0" text-anchor="middle" style="font-family:'Liberation Serif',serif;font-weight:bold;font-size:8.2px" fill="#222" stroke="#222">280</text>
<path d="M41.5,409.4 42.5,404.2 43.5,404.5 44.5,405.1 45.5,405.2 46.5,404.3 47.5,405 48.5,405.3 49.5,405.4 50.5,405.2 51.5,404.8 52.5,405.7 53.5,405.5 54.5,405.9 55.5,406.2 56.5,406.8 57.5,406.2 58.5,406.1 59.5,405.2 60.5,405.8 61.5,404.9 62.5,404.9 63.5,405.8 64.5,404.8 65.5,404.3 66.5,404.5 67.5,405 68.5,405.7 69.5,405 70.5,404.6 71.5,405.3 72.5,405.2 73.5,405 74.5,405.3 75.5,405.1 76.5,405.5 77.5,404.6 78.5,405.5 79.5,405.7 80.5,405.3 81.5,404.9 82.5,404.7 83.5,405.3 84.5,404.6 85.5,405.4 86.5,405.8 87.5,406.2 88.5,405.5 89.5,405.5 90.5,405.2 91.5,405.4 92.5,404.9 93.5,404.7 94.5,405 95.5,405.5 96.5,405.1 97.5,405.5 98.5,406.1 99.5,404.6 100.5,404.9 101.5,404.3 102.5,405.1 103.5,406.2 104.5,405.9 105.5,404.6 106.5,405 107.5,404.4 108.5,404.3 109.5,405.1 110.5,403.7 111.5,404.2 112.5,404 113.5,404.7 114.5,404.4 115.5,404.7 116.5,404.5 117.5,403.9 118.5,402.8 119.5,401.9 120.5,401 121.5,400.3 122.5,400.8 123.5,400.6 124.5,399.6 125.5,399.1 126.5,399.4 127.5,398.1 128.5,397.7 129.5,397.1 130.5,396.9 131.5,394.9 132.5,395.3 133.5,394.4 134.5,394.1 135.5,395.1 136.5,394 137.5,392.3 138.5,391.9 139.5,391.4 140.5,390.7 141.5,389.6 142.5,389.1 143.5,388.7 144.5,387.7 145.5,387.4 146.5,386.7 147.5,386.5 148.5,385.9 149.5,385.6 150.5,385 151.5,383.4 152.5,382 153.5,381.2 154.5,379.3 155.5,377.6 156.5,376.1 157.5,374.2 158.5,372.4 159.5,369 160.5,367.5 161.5,365 162.5,363.6 163.5,361.4 164.5,357.8 165.5,355.4 166.5,353.3 167.5,349.3 168.5,342.7 169.5,334.3 170.5,324.2 171.5,312.4 172.5,300.7 173.5,289.7 174.5,279.4 175.5,276.3 176.5,276.6 177.5,284.8 178.5,297.3 179.5,313 180.5,331.6 181.5,348.4 182.5,363.6 183.5,376.4 184.5,387.2 185.5,395.4 186.5,402 187.5,405.9 188.5,409.1 189.5,411.1 190.5,412.4 191.5,413.9 192.5,415.4 193.5,415.4 194.5,416 195.5,416.6 196.5,417.1 197.5,417 198.5,418.1 199.5,417.2 200.5,417.6 201.5,417.1 202.5,417.7 203.5,417.8 204.5,418 205.5,419.2 206.5,418.3 207.5,418.9 208.5,418.2 209.5,417.5 210.5,417.8 211.5,418.6 212.5,418.4 213.5,418.6 214.5,418.5 215.5,417.8 216.5,418.9 217.5,418.5 218.5,419.5 219.5,419 220.5,418.6 221.5,418.4 222.5,418.5 223.5,417.8 224.5,417.9 225.5,417.7 226.5,417.4 227.5,417.8 228.5,418.8" fill="none" stroke="#333" stroke-width="0.9"/>
<path d="M175.2,277 L176.4,274.6 L177.3,277.5" fill="none" stroke="#333" stroke-width="1.2"/>
<path d="M39.5,407.7 40,407.8 40.5,407.8 41,407.8 41.5,407.8 42,407.8 42.5,407.8 43,407.8 43.5,407.8 44,407.8 44.5,407.8 45,407.8 45.5,407.8 46,407.8 46.5,407.8 47,407.8 47.5,407.8 48,407.8 48.5,407.8 49,407.8 49.5,407.8 50,407.8 50.5,407.8 51,407.8 51.5,407.8 52,407.8 52.5,407.8 53,407.8 53.5,407.8 54,407.8 54.5,407.8 55,407.8 55.5,407.8 56,407.8 56.5,407.8 57,407.8 57.5,407.8 58,407.9 58.5,407.9 59,407.9 59.5,407.9 60,407.9 60.5,407.9 61,407.9 61.5,407.9 62,407.9 62.5,407.9 63,407.9 63.5,407.9 64,407.9 64.5,407.9 65,407.9 65.5,407.9 66,407.9 66.5,407.9 67,407.9 67.5,407.9 68,407.8 68.5,407.8 69,407.8 69.5,407.8 70,407.8 70.5,407.8 71,407.8 71.5,407.8 72,407.8 72.5,407.8 73,407.8 73.5,407.8 74,407.8 74.5,407.8 75,407.8 75.5,407.8 76,407.8 76.5,407.8 77,407.8 77.5,407.8 78,407.8 78.5,407.8 79,407.8 79.5,407.8 80,407.7 80.5,407.7 81,407.7 81.5,407.7 82,407.7 82.5,407.7 83,407.7 83.5,407.7 84,407.7 84.5,407.6 85,407.6 85.5,407.6 86,407.6 86.5,407.6 87,407.6 87.5,407.5 88,407.5 88.5,407.5 89,407.5 89.5,407.5 90,407.4 90.5,407.4 91,407.4 91.5,407.4 92,407.4 92.5,407.3 93,407.3 93.5,407.3 94,407.2 94.5,407.2 95,407.2 95.5,407.2 96,407.1 96.5,407.1 97,407.1 97.5,407 98,407 98.5,406.9 99,406.9 99.5,406.9 100,406.8 100.5,406.8 101,406.7 101.5,406.7 102,406.6 102.5,406.6 103,406.5 103.5,406.5 104,406.4 104.5,406.3 105,406.3 105.5,406.2 106,406.1 106.5,406.1 107,406 107.5,405.9 108,405.8 108.5,405.8 109,405.7 109.5,405.6 110,405.5 110.5,405.4 111,405.3 111.5,405.2 112,405.1 112.5,405 113,404.9 113.5,404.8 114,404.6 114.5,404.5 115,404.4 115.5,404.2 116,404.1 116.5,404 117,403.8 117.5,403.7 118,403.5 118.5,403.3 119,403.2 119.5,403 120,402.8 120.5,402.6 121,402.4 121.5,402.2 122,402 122.5,401.8 123,401.6 123.5,401.3 124,401.1 124.5,400.9 125,400.6 125.5,400.4 126,400.1 126.5,399.9 127,399.6 127.5,399.3 128,399 128.5,398.8 129,398.5 129.5,398.2 130,397.9 130.5,397.6 131,397.3 131.5,396.9 132,396.6 132.5,396.3 133,396 133.5,395.7 134,395.3 134.5,395 135,394.7 135.5,394.4 136,394 136.5,393.7 137,393.4 137.5,393 138,392.7 138.5,392.4 139,392.1 139.5,391.7 140,391.4 140.5,391.1 141,390.8 141.5,390.5 142,390.2 142.5,389.9 143,389.6 143.5,389.3 144,389 144.5,388.7 145,388.4 145.5,388.2 146,387.9 146.5,387.5 147,387.2 147.5,386.9 148,386.6 148.5,386.2 149,385.8 149.5,385.4 150,385 150.5,384.5 151,384 151.5,383.5 152,382.9 152.5,382.2 153,381.5 153.5,380.8 154,380 154.5,379.2 155,378.2 155.5,377.3 156,376.3 156.5,375.3 157,374.3 157.5,373.3 158,372.2 158.5,371.2 159,370.2 159.5,369.1 160,368.1 160.5,367.1 161,366 161.5,365.1 162,364.1 162.5,363.1 163,362.1 163.5,361.1 164,360.1 164.5,358.9 165,357.7 165.5,356.3 166,354.8 166.5,353 167,350.9 167.5,348.5 168,345.6 168.5,342.2 169,338.4 169.5,334 170,329.2 170.5,324 171,318.4 171.5,312.6 172,306.6 172.5,300.6 173,294.9 173.5,289.5 174,284.8 174.5,281 175,278.2 175.5,276.7 176,276.7 176.5,278.1 177,281.1 177.5,285.5 178,291.1 178.5,297.9 179,305.5 179.5,313.7 180,322.3 180.5,331.1 181,339.8 181.5,348.3 182,356.3 182.5,363.9 183,370.9 183.5,377.2 184,382.9 184.5,388 185,392.4 185.5,396.2 186,399.4 186.5,402.2 187,404.5 187.5,406.4 188,408.1 188.5,409.4 189,410.5 189.5,411.5 190,412.2 190.5,412.9 191,413.4 191.5,413.9 192,414.3 192.5,414.7 193,415 193.5,415.3 194,415.6 194.5,415.8 195,416 195.5,416.2 196,416.4 196.5,416.6 197,416.7 197.5,416.9 198,417 198.5,417.1 199,417.3 199.5,417.4 200,417.5 200.5,417.6 201,417.7 201.5,417.7 202,417.8 202.5,417.9 203,418 203.5,418 204,418.1 204.5,418.2 205,418.2 205.5,418.3 206,418.3 206.5,418.3 207,418.4 207.5,418.4 208,418.5 208.5,418.5 209,418.5 209.5,418.5 210,418.6 210.5,418.6 211,418.6 211.5,418.6 212,418.7 212.5,418.7 213,418.7 213.5,418.7 214,418.7 214.5,418.7 215,418.7 215.5,418.8 216,418.8 216.5,418.8 217,418.8 217.5,418.8 218,418.8 218.5,418.8 219,418.8 219.5,418.8 220,418.8 220.5,418.8 221,418.8 221.5,418.8 222,418.8 222.5,418.8 223,418.8 223.5,418.8 224,418.8 224.5,418.8 225,418.8 225.5,418.8 226,418.8 226.5,418.7 227,418.7 227.5,418.7 228,418.7 228.5,418.7 229,418.7" fill="none" stroke="#e83a40" stroke-width="1.4"/>
<path d="M125.5,409.9 126,409.9 126.5,409.9 127,409.9 127.5,410 128,410 128.5,410 129,410 129.5,410.1 130,410.1 130.5,410.1 131,410.2 131.5,410.2 132,410.2 132.5,410.2 133,410.3 133.5,410.3 134,410.3 134.5,410.3 135,410.4 135.5,410.4 136,410.4 136.5,410.4 137,410.5 137.5,410.5 138,410.5 138.5,410.5 139,410.6 139.5,410.6 140,410.6 140.5,410.6 141,410.6 141.5,410.6 142,410.6 142.5,410.6 143,410.6 143.5,410.6 144,410.6 144.5,410.5 145,410.5 145.5,410.4 146,410.3 146.5,410.2 147,410 147.5,409.9 148,409.7 148.5,409.4 149,409.1 149.5,408.8 150,408.4 150.5,408 151,407.5 151.5,407 152,406.4 152.5,405.7 153,405 153.5,404.2 154,403.3 154.5,402.4 155,401.3 155.5,400.3 156,399.1 156.5,397.9 157,396.6 157.5,395.3 158,394 158.5,392.6 159,391.2 159.5,389.8 160,388.4 160.5,387.1 161,385.8 161.5,384.5 162,383.3 162.5,382.2 163,381.1 163.5,380.2 164,379.4 164.5,378.7 165,378.1 165.5,377.7 166,377.5 166.5,377.4 167,377.4 167.5,377.6 168,377.9 168.5,378.4 169,378.9 169.5,379.6 170,380.4 170.5,381.3 171,382.3 171.5,383.5 172,384.6 172.5,385.9 173,387.2 173.5,388.5 174,389.9 174.5,391.2 175,392.6 175.5,394 176,395.4 176.5,396.8 177,398.2 177.5,399.6 178,400.9 178.5,402.2 179,403.5 179.5,404.7 180,405.9 180.5,407.1 181,408.2 181.5,409.2 182,410.2 182.5,411 183,411.9 183.5,412.6 184,413.4 184.5,414 185,414.6 185.5,415.2 186,415.7 186.5,416.1 187,416.6 187.5,417 188,417.3 188.5,417.6 189,417.9 189.5,418.2 190,418.4 190.5,418.6 191,418.8 191.5,419 192,419.1 192.5,419.3 193,419.4 193.5,419.5 194,419.6 194.5,419.7 195,419.8 195.5,419.9 196,419.9 196.5,420 197,420 197.5,420.1 198,420.1 198.5,420.2 199,420.2 199.5,420.2 200,420.3 200.5,420.3 201,420.3 201.5,420.3 202,420.3 202.5,420.3 203,420.4 203.5,420.4 204,420.4 204.5,420.4" fill="none" stroke="#2aa055" stroke-width="1.2"/>
<path d="M150.5,410.8 151,410.8 151.5,410.8 152,410.8 152.5,410.8 153,410.8 153.5,410.8 154,410.8 154.5,410.8 155,410.8 155.5,410.8 156,410.8 156.5,410.8 157,410.8 157.5,410.8 158,410.8 158.5,410.8 159,410.8 159.5,410.7 160,410.7 160.5,410.6 161,410.5 161.5,410.4 162,410.2 162.5,410 163,409.6 163.5,409.1 164,408.5 164.5,407.7 165,406.7 165.5,405.4 166,403.8 166.5,401.7 167,399.3 167.5,396.4 168,392.9 168.5,388.9 169,384.3 169.5,379.1 170,373.4 170.5,367.2 171,360.5 171.5,353.5 172,346.4 172.5,339.1 173,332.1 173.5,325.4 174,319.3 174.5,314 175,309.8 175.5,306.9 176,305.4 176.5,305.5 177,307 177.5,310 178,314.3 178.5,319.8 179,326.1 179.5,333.1 180,340.5 180.5,348.2 181,355.8 181.5,363.2 182,370.2 182.5,376.9 183,383 183.5,388.5 184,393.4 184.5,397.7 185,401.5 185.5,404.6 186,407.3 186.5,409.5 187,411.4 187.5,412.8 188,414 188.5,415 189,415.8 189.5,416.4 190,416.9 190.5,417.3 191,417.6 191.5,417.8 192,418 192.5,418.2 193,418.4 193.5,418.5 194,418.6 194.5,418.7 195,418.8 195.5,418.9 196,419 196.5,419.1 197,419.2 197.5,419.3 198,419.3 198.5,419.4 199,419.4 199.5,419.5 200,419.5 200.5,419.6 201,419.6 201.5,419.7 202,419.7 202.5,419.7 203,419.8 203.5,419.8 204,419.8 204.5,419.8" fill="none" stroke="#2070e8" stroke-width="1.3"/>
<path d="M39.4,410.8 39.5,408.2 40,408.2 40.5,408.2 41,408.2 41.5,408.2 42,408.2 42.5,408.2 43,408.3 43.5,408.3 44,408.3 44.5,408.3 45,408.3 45.5,408.3 46,408.3 46.5,408.3 47,408.3 47.5,408.3 48,408.3 48.5,408.3 49,408.4 49.5,408.4 50,408.4 50.5,408.4 51,408.4 51.5,408.4 52,408.4 52.5,408.4 53,408.4 53.5,408.4 54,408.4 54.5,408.4 55,408.4 55.5,408.5 56,408.5 56.5,408.5 57,408.5 57.5,408.5 58,408.5 58.5,408.5 59,408.5 59.5,408.5 60,408.5 60.5,408.5 61,408.5 61.5,408.5 62,408.6 62.5,408.6 63,408.6 63.5,408.6 64,408.6 64.5,408.6 65,408.6 65.5,408.6 66,408.6 66.5,408.6 67,408.6 67.5,408.6 68,408.6 68.5,408.7 69,408.7 69.5,408.7 70,408.7 70.5,408.7 71,408.7 71.5,408.7 72,408.7 72.5,408.7 73,408.7 73.5,408.7 74,408.7 74.5,408.7 75,408.8 75.5,408.8 76,408.8 76.5,408.8 77,408.8 77.5,408.8 78,408.8 78.5,408.8 79,408.8 79.5,408.8 80,408.8 80.5,408.8 81,408.8 81.5,408.8 82,408.8 82.5,408.8 83,408.8 83.5,408.9 84,408.9 84.5,408.9 85,408.9 85.5,408.9 86,408.9 86.5,408.9 87,408.9 87.5,408.9 88,408.9 88.5,408.9 89,408.9 89.5,408.9 90,408.9 90.5,408.9 91,408.9 91.5,408.9 92,408.9 92.5,408.9 93,408.9 93.5,408.9 94,408.9 94.5,408.9 95,408.9 95.5,408.9 96,408.9 96.5,408.9 97,408.9 97.5,409 98,409 98.5,409 99,409 99.5,409 100,409 100.5,409 101,409 101.5,409 102,409 102.5,409 103,409 103.5,409 104,409 104.5,409 105,409 105.5,409.1 106,409.1 106.5,409.1 107,409.1 107.5,409.1 108,409.1 108.5,409.1 109,409.1 109.5,409.2 110,409.2 110.5,409.2 111,409.2 111.5,409.2 112,409.2 112.5,409.3 113,409.3 113.5,409.3 114,409.3 114.5,409.3 115,409.4 115.5,409.4 116,409.4 116.5,409.4 117,409.4 117.5,409.5 118,409.5 118.5,409.5 119,409.5 119.5,409.6 120,409.6 120.5,409.6 121,409.6 121.5,409.7 122,409.7 122.5,409.7 123,409.7 123.5,409.8 124,409.8 124.5,409.8 125,409.8 125.5,409.9 126,409.9 126.5,409.9 127,409.9 127.5,410 128,410 128.5,410 129,410 129.5,410.1 130,410.1 130.5,410.1 131,410.2 131.5,410.2 132,410.2 132.5,410.2 133,410.3 133.5,410.3 134,410.3 134.5,410.3 135,410.4 135.5,410.4 136,410.4 136.5,410.5 137,410.5 137.5,410.5 138,410.5 138.5,410.6 139,410.6 139.5,410.6 140,410.7 140.5,410.7 141,410.7 141.5,410.8 142,410.8 142.5,410.8 143,410.9 143.5,410.9 144,410.9 144.5,411 145,411 145.5,411 146,411.1 146.5,411.1 147,411.1 147.5,411.2 148,411.2 148.5,411.3 149,411.3 149.5,411.3 150,411.4 150.5,411.4 151,411.4 151.5,411.5 152,411.5 152.5,411.6 153,411.6 153.5,411.7 154,411.7 154.5,411.7 155,411.8 155.5,411.8 156,411.9 156.5,411.9 157,412 157.5,412 158,412.1 158.5,412.1 159,412.2 159.5,412.2 160,412.3 160.5,412.4 161,412.5 161.5,412.5 162,412.6 162.5,412.7 163,412.8 163.5,412.9 164,413 164.5,413 165,413.1 165.5,413.2 166,413.3 166.5,413.3 167,413.4 167.5,413.5 168,413.6 168.5,413.7 169,413.9 169.5,414 170,414.2 170.5,414.4 171,414.6 171.5,414.9 172,415.1 172.5,415.4 173,415.6 173.5,415.8 174,416 174.5,416.2 175,416.4 175.5,416.6 176,416.8 176.5,417 177,417.1 177.5,417.3 178,417.5 178.5,417.7 179,417.9 179.5,418 180,418.2 180.5,418.4 181,418.6 181.5,418.7 182,418.8 182.5,418.9 183,419 183.5,419.1 184,419.2 184.5,419.2 185,419.3 185.5,419.3 186,419.4 186.5,419.4 187,419.5 187.5,419.5 188,419.5 188.5,419.6 189,419.6 189.5,419.7 190,419.7 190.5,419.7 191,419.8 191.5,419.8 192,419.9 192.5,419.9 193,419.9 193.5,420 194,420 194.5,420 195,420.1 195.5,420.1 196,420.1 196.5,420.1 197,420.2 197.5,420.2 198,420.2 198.5,420.2 199,420.3 199.5,420.3 200,420.3 200.5,420.3 201,420.3 201.5,420.3 202,420.4 202.5,420.4 203,420.4 203.5,420.4 204,420.4 204.5,420.4 205,420.4 205.5,420.4 206,420.4 206.5,420.4 207,420.4 207.5,420.4 208,420.4 208.5,420.4 209,420.4 209.5,420.3 210,420.3 210.5,420.3 211,420.3 211.5,420.3 212,420.3 212.5,420.3 213,420.3 213.5,420.3 214,420.2 214.5,420.2 215,420.2 215.5,420.2 216,420.2 216.5,420.2 217,420.2 217.5,420.1 218,420.1 218.5,420.1 219,420.1 219.5,420.1 220,420 220.5,420 221,420 221.5,420 222,420 222.5,419.9 223,419.9 223.5,419.9 224,419.9 224.5,419.9 225,419.8 225.5,419.8 226,419.8 226.5,419.8 227,419.8 227.5,419.8 228,419.7 228.5,419.7 229,419.7" fill="none" stroke="#3a3a3a" stroke-width="1.3"/>
<path d="M39.5,407.8 40,407.8 40.5,407.8 41,407.8 41.5,407.8 42,407.8 42.5,407.8 43,407.8 43.5,407.8 44,407.8 44.5,407.8 45,407.8 45.5,407.8 46,407.8 46.5,407.8 47,407.8 47.5,407.8 48,407.8 48.5,407.8 49,407.8 49.5,407.8 50,407.8 50.5,407.8 51,407.9 51.5,407.9 52,407.9 52.5,407.9 53,407.9 53.5,407.9 54,407.9 54.5,407.9 55,407.9 55.5,407.9 56,407.9 56.5,407.9 57,407.9 57.5,407.9 58,407.9 58.5,407.9 59,407.9 59.5,407.9 60,407.9 60.5,407.9 61,407.9 61.5,407.9 62,407.9 62.5,407.9 63,407.9 63.5,407.9 64,407.9 64.5,407.9 65,407.9 65.5,407.9 66,407.9 66.5,407.9 67,407.9 67.5,407.9 68,407.9 68.5,407.9 69,407.9 69.5,407.9 70,407.9 70.5,407.9 71,407.9 71.5,407.9 72,407.9 72.5,407.9 73,407.9 73.5,407.9 74,407.9 74.5,407.9 75,407.9 75.5,407.8 76,407.8 76.5,407.8 77,407.8 77.5,407.8 78,407.8 78.5,407.8 79,407.8 79.5,407.8 80,407.8 80.5,407.8 81,407.8 81.5,407.8 82,407.8 82.5,407.7 83,407.7 83.5,407.7 84,407.7 84.5,407.7 85,407.7 85.5,407.7 86,407.7 86.5,407.6 87,407.6 87.5,407.6 88,407.6 88.5,407.6 89,407.6 89.5,407.5 90,407.5 90.5,407.5 91,407.5 91.5,407.5 92,407.4 92.5,407.4 93,407.4 93.5,407.4 94,407.3 94.5,407.3 95,407.3 95.5,407.2 96,407.2 96.5,407.2 97,407.1 97.5,407.1 98,407.1 98.5,407 99,407 99.5,407 100,406.9 100.5,406.9 101,406.8 101.5,406.8 102,406.8 102.5,406.7 103,406.7 103.5,406.6 104,406.6 104.5,406.5 105,406.5 105.5,406.4 106,406.3 106.5,406.3 107,406.2 107.5,406.2 108,406.1 108.5,406 109,406 109.5,405.9 110,405.8 110.5,405.7 111,405.6 111.5,405.6 112,405.5 112.5,405.4 113,405.3 113.5,405.2 114,405.1 114.5,405 115,404.9 115.5,404.8 116,404.7 116.5,404.5 117,404.4 117.5,404.3 118,404.2 118.5,404 119,403.9 119.5,403.8 120,403.6 120.5,403.5 121,403.3 121.5,403.1 122,403 122.5,402.8 123,402.6 123.5,402.5 124,402.3 124.5,402.1 125,401.9 125.5,401.7 126,401.5 126.5,401.3 127,401.1 127.5,400.9 128,400.7 128.5,400.5 129,400.2 129.5,400 130,399.8 130.5,399.6 131,399.3 131.5,399.1 132,398.8 132.5,398.6 133,398.4 133.5,398.1 134,397.9 134.5,397.6 135,397.4 135.5,397.1 136,396.9 136.5,396.6 137,396.4 137.5,396.2 138,395.9 138.5,395.7 139,395.5 139.5,395.2 140,395 140.5,394.8 141,394.6 141.5,394.4 142,394.2 142.5,394 143,393.8 143.5,393.7 144,393.5 144.5,393.4 145,393.3 145.5,393.2 146,393.1 146.5,393 147,392.9 147.5,392.9 148,392.8 148.5,392.8 149,392.8 149.5,392.8 150,392.9 150.5,392.9 151,393 151.5,393.1 152,393.2 152.5,393.3 153,393.4 153.5,393.6 154,393.7 154.5,393.9 155,394.1 155.5,394.3 156,394.6 156.5,394.8 157,395 157.5,395.3 158,395.6 158.5,395.8 159,396.1 159.5,396.4 160,396.8 160.5,397.1 161,397.4 161.5,397.8 162,398.1 162.5,398.5 163,398.8 163.5,399.2 164,399.5 164.5,399.9 165,400.2 165.5,400.6 166,400.9 166.5,401.3 167,401.6 167.5,402 168,402.4 168.5,402.8 169,403.2 169.5,403.6 170,404 170.5,404.5 171,404.9 171.5,405.4 172,405.9 172.5,406.4 173,406.9 173.5,407.3 174,407.7 174.5,408.1 175,408.5 175.5,409 176,409.3 176.5,409.7 177,410.1 177.5,410.5 178,410.9 178.5,411.2 179,411.6 179.5,412 180,412.3 180.5,412.7 181,413 181.5,413.3 182,413.5 182.5,413.8 183,414 183.5,414.3 184,414.5 184.5,414.7 185,414.9 185.5,415 186,415.2 186.5,415.4 187,415.5 187.5,415.7 188,415.8 188.5,416 189,416.1 189.5,416.2 190,416.4 190.5,416.5 191,416.6 191.5,416.7 192,416.9 192.5,417 193,417.1 193.5,417.2 194,417.3 194.5,417.4 195,417.5 195.5,417.6 196,417.7 196.5,417.8 197,417.8 197.5,417.9 198,418 198.5,418.1 199,418.1 199.5,418.2 200,418.3 200.5,418.3 201,418.4 201.5,418.4 202,418.5 202.5,418.5 203,418.6 203.5,418.6 204,418.7 204.5,418.7 205,418.7 205.5,418.8 206,418.8 206.5,418.8 207,418.9 207.5,418.9 208,418.9 208.5,418.9 209,418.9 209.5,418.9 210,419 210.5,419 211,419 211.5,419 212,419 212.5,419 213,419 213.5,419 214,419 214.5,419 215,419 215.5,419 216,419 216.5,419 217,419 217.5,419 218,419 218.5,419 219,419 219.5,419 220,419 220.5,419 221,419 221.5,419 222,419 222.5,419 223,419 223.5,419 224,419 224.5,419 225,418.9 225.5,418.9 226,418.9 226.5,418.9 227,418.9 227.5,418.9 228,418.9 228.5,418.9 229,418.9" fill="none" stroke="#a468e4" stroke-width="1.3"/>
<text x="12.2" y="348.6" text-anchor="middle" style="font-family:'Liberation Serif',serif;font-size:9.7px;font-weight:bold" fill="#222" stroke="#222" transform="rotate(-90 12.2 348.6)">Intensity (a.u)</text>
<text x="134.3" y="461.6" text-anchor="middle" style="font-family:'Liberation Serif',serif;font-size:9.8px;font-weight:bold" fill="#222" stroke="#222">Bingding energy (eV)</text>
<text x="15" y="253.8" text-anchor="middle" style="font-family:'Liberation Serif',serif;font-size:21px;font-weight:bold" fill="#000" stroke="#000">c</text>
<text x="50.3" y="280.4" text-anchor="start" style="font-family:'Liberation Serif',serif;font-size:9.3px;font-weight:bold" fill="#111" stroke="#111">C 1s</text>
<text x="186.3" y="312.6" text-anchor="start" style="font-family:'Liberation Serif',serif;font-size:8.8px;font-weight:bold" fill="#2070e8" stroke="#2070e8">C-C</text>
<text x="186.3" y="323.8" text-anchor="start" style="font-family:'Liberation Serif',serif;font-size:8.8px;font-weight:bold" fill="#2070e8" stroke="#2070e8">284.8 eV</text>
<text x="133.6" y="359.3" text-anchor="start" style="font-family:'Liberation Serif',serif;font-size:8.8px;font-weight:bold" fill="#2aa055" stroke="#2aa055">C-O</text>
<text x="133.6" y="369.9" text-anchor="start" style="font-family:'Liberation Serif',serif;font-size:8.8px;font-weight:bold" fill="#2aa055" stroke="#2aa055">286 eV</text>
<text x="104.4" y="384.1" text-anchor="start" style="font-family:'Liberation Serif',serif;font-size:8.8px;font-weight:bold" fill="#a468e4" stroke="#a468e4">C=O</text>
<text x="104.4" y="394.7" text-anchor="start" style="font-family:'Liberation Serif',serif;font-size:8.8px;font-weight:bold" fill="#a468e4" stroke="#a468e4">287.4 eV</text>
<rect x="307.4" y="247.45" width="229.5" height="186.0" fill="none" stroke="#2c2c2c" stroke-width="1.3"/>
<path d="M307.4,433.4v3.6 M345.6,433.4v3.6 M383.9,433.4v3.6 M422.1,433.4v3.6 M460.4,433.4v3.6 M498.6,433.4v3.6 M536.9,433.4v3.6 M326.5,433.4v1.9 M364.8,433.4v1.9 M403,433.4v1.9 M441.3,433.4v1.9 M479.5,433.4v1.9 M517.8,433.4v1.9 " stroke="#2c2c2c" stroke-width="1.1" fill="none"/>
<text x="307.4" y="446.20000000000005" text-anchor="middle" style="font-family:'Liberation Serif',serif;font-weight:bold;font-size:8.2px" fill="#222" stroke="#222">585</text>
<text x="345.6" y="446.20000000000005" text-anchor="middle" style="font-family:'Liberation Serif',serif;font-weight:bold;font-size:8.2px" fill="#222" stroke="#222">580</text>
<text x="383.9" y="446.20000000000005" text-anchor="middle" style="font-family:'Liberation Serif',serif;font-weight:bold;font-size:8.2px" fill="#222" stroke="#222">575</text>
<text x="422.1" y="446.20000000000005" text-anchor="middle" style="font-family:'Liberation Serif',serif;font-weight:bold;font-size:8.2px" fill="#222" stroke="#222">570</text>
<text x="460.4" y="446.20000000000005" text-anchor="middle" style="font-family:'Liberation Serif',serif;font-weight:bold;font-size:8.2px" fill="#222" stroke="#222">565</text>
<text x="498.6" y="446.20000000000005" text-anchor="middle" style="font-family:'Liberation Serif',serif;font-weight:bold;font-size:8.2px" fill="#222" stroke="#222">560</text>
<text x="536.9" y="446.20000000000005" text-anchor="middle" style="font-family:'Liberation Serif',serif;font-weight:bold;font-size:8.2px" fill="#222" stroke="#222">555</text>
<path d="M334.3,355.7 335.3,356.6 336.3,349.7 337.3,356.4 338.3,348.2 339.3,347.5 340.3,348.3 341.3,350.5 342.3,351.1 343.3,346.2 344.3,343.1 345.3,345.4 346.3,342.2 347.3,343.1 348.3,339.9 349.3,342.4 350.3,332.9 351.3,335.7 352.3,337.7 353.3,334.8 354.3,338.4 355.3,335 356.3,332.5 357.3,335.6 358.3,340.3 359.3,336.6 360.3,330.5 361.3,329.7 362.3,329.5 363.3,331.8 364.3,327.4 365.3,327.7 366.3,331.3 367.3,331.5 368.3,328.7 369.3,326.7 370.3,324.9 371.3,325.8 372.3,321.7 373.3,327.6 374.3,324.1 375.3,326 376.3,328.5 377.3,326.2 378.3,320.2 379.3,323.6 380.3,323.1 381.3,317.7 382.3,316 383.3,316.4 384.3,311.3 385.3,315.7 386.3,304.9 387.3,305.4 388.3,304.9 389.3,302.6 390.3,301 391.3,298.7 392.3,295.1 393.3,295.3 394.3,285 395.3,286.7 396.3,282.2 397.3,281.8 398.3,281.3 399.3,280.3 400.3,280.4 401.3,281.1 402.3,277.5 403.3,273.1 404.3,277.3 405.3,277.8 406.3,271.7 407.3,278.4 408.3,285.5 409.3,283.7 410.3,284.6 411.3,286.3 412.3,289.1 413.3,293.7 414.3,296.4 415.3,301.9 416.3,308 417.3,303.8 418.3,305.1 419.3,311.4 420.3,313.6 421.3,318.6 422.3,323.7 423.3,324.1 424.3,326.2 425.3,328.2 426.3,329.9 427.3,332.2 428.3,334.9 429.3,340.7 430.3,340.2 431.3,349.2 432.3,350 433.3,355.5 434.3,356 435.3,359.2 436.3,364.2 437.3,364.6 438.3,370.6 439.3,367.9 440.3,366 441.3,370.6 442.3,369 443.3,374.6 444.3,378.3 445.3,378.7 446.3,375.5 447.3,377.9 448.3,384.7 449.3,382.9 450.3,383.7 451.3,388 452.3,393.5 453.3,393.3 454.3,392.5 455.3,394.4 456.3,396.1 457.3,394.5 458.3,394.6 459.3,398 460.3,396.8 461.3,399.7 462.3,401 463.3,406.8 464.3,400.7 465.3,403 466.3,403.6 467.3,405.5 468.3,407.3 469.3,404.4 470.3,404 471.3,402.6 472.3,404.5 473.3,408.1 474.3,407.4 475.3,405.5 476.3,412.2 477.3,408.7 478.3,410.4 479.3,408.7 480.3,410.1 481.3,407.3 482.3,409.2 483.3,415.6 484.3,407 485.3,410.5 486.3,410.7 487.3,408.2 488.3,406.2 489.3,407 490.3,406.4 491.3,405.5 492.3,400.8 493.3,403.9 494.3,401.7 495.3,401.7 496.3,408.7 497.3,403 498.3,402.9 499.3,399.3 500.3,401.9 501.3,402 502.3,401.5 503.3,401.6 504.3,397.7 505.3,397 506.3,398.6 507.3,393 508.3,395.7 509.3,393.3 510.3,392.8 511.3,389 512.3,390.1 513.3,391.3 514.3,392.6 515.3,392.1 516.3,389.1 517.3,388.2 518.3,386.2 519.3,388.4 520.3,386.7 521.3,388.7 522.3,391.8 523.3,388.7" fill="none" stroke="#878787" stroke-width="1.4" stroke-linejoin="round"/>
<path d="M370.3,360 370.8,360.1 371.3,360.3 371.8,360.5 372.3,360.7 372.8,360.8 373.3,361 373.8,361.2 374.3,361.4 374.8,361.6 375.3,361.8 375.8,361.9 376.3,362.1 376.8,362.3 377.3,362.5 377.8,362.7 378.3,362.9 378.8,363.1 379.3,363.3 379.8,363.5 380.3,363.7 380.8,363.9 381.3,364.1 381.8,364.3 382.3,364.5 382.8,364.7 383.3,364.9 383.8,365.1 384.3,365.4 384.8,365.6 385.3,365.8 385.8,366 386.3,366.2 386.8,366.5 387.3,366.7 387.8,366.9 388.3,367.2 388.8,367.4 389.3,367.6 389.8,367.8 390.3,368.1 390.8,368.3 391.3,368.5 391.8,368.7 392.3,368.9 392.8,369.2 393.3,369.4 393.8,369.5 394.3,369.7 394.8,369.9 395.3,370 395.8,370.1 396.3,370.2 396.8,370.3 397.3,370.4 397.8,370.4 398.3,370.4 398.8,370.4 399.3,370.4 399.8,370.3 400.3,370.2 400.8,370.1 401.3,369.9 401.8,369.7 402.3,369.4 402.8,369.1 403.3,368.7 403.8,368.2 404.3,367.8 404.8,367.2 405.3,366.6 405.8,366 406.3,365.3 406.8,364.5 407.3,363.7 407.8,362.8 408.3,361.9 408.8,361 409.3,360 409.8,358.9 410.3,357.8 410.8,356.7 411.3,355.5 411.8,354.3 412.3,353.1 412.8,351.8 413.3,350.5 413.8,349.2 414.3,347.9 414.8,346.5 415.3,345.2 415.8,343.9 416.3,342.5 416.8,341.2 417.3,339.9 417.8,338.7 418.3,337.5 418.8,336.3 419.3,335.2 419.8,334.2 420.3,333.2 420.8,332.4 421.3,331.6 421.8,330.9 422.3,330.3 422.8,329.8 423.3,329.5 423.8,329.3 424.3,329.2 424.8,329.2 425.3,329.3 425.8,329.6 426.3,330 426.8,330.6 427.3,331.4 427.8,332.3 428.3,333.3 428.8,334.5 429.3,335.8 429.8,337.2 430.3,338.7 430.8,340.4 431.3,342.1 431.8,344 432.3,345.9 432.8,347.9 433.3,349.9 433.8,352 434.3,354.1 434.8,356.3 435.3,358.4 435.8,360.6 436.3,362.8 436.8,364.9 437.3,367 437.8,369.1 438.3,371.2 438.8,373.3 439.3,375.3 439.8,377.2 440.3,379.2 440.8,381.1 441.3,382.9 441.8,384.7 442.3,386.4 442.8,388 443.3,389.6 443.8,391.2 444.3,392.6 444.8,394" fill="none" stroke="#e83030" stroke-width="1.2"/>
<path d="M360.3,356.9 360.8,357 361.3,357.1 361.8,357.1 362.3,357.2 362.8,357.3 363.3,357.3 363.8,357.4 364.3,357.4 364.8,357.4 365.3,357.4 365.8,357.4 366.3,357.4 366.8,357.4 367.3,357.3 367.8,357.2 368.3,357.1 368.8,357 369.3,356.9 369.8,356.7 370.3,356.4 370.8,356.2 371.3,355.8 371.8,355.5 372.3,355.1 372.8,354.6 373.3,354.1 373.8,353.5 374.3,352.9 374.8,352.2 375.3,351.5 375.8,350.6 376.3,349.7 376.8,348.8 377.3,347.7 377.8,346.6 378.3,345.4 378.8,344.1 379.3,342.7 379.8,341.2 380.3,339.7 380.8,338.1 381.3,336.4 381.8,334.6 382.3,332.7 382.8,330.8 383.3,328.8 383.8,326.7 384.3,324.6 384.8,322.4 385.3,320.2 385.8,317.9 386.3,315.6 386.8,313.2 387.3,310.9 387.8,308.5 388.3,306.1 388.8,303.8 389.3,301.4 389.8,299.1 390.3,296.9 390.8,294.7 391.3,292.5 391.8,290.5 392.3,288.5 392.8,286.7 393.3,284.9 393.8,283.3 394.3,281.8 394.8,280.5 395.3,279.3 395.8,278.3 396.3,277.4 396.8,276.8 397.3,276.3 397.8,276 398.3,275.9 398.8,276 399.3,276.3 399.8,276.8 400.3,277.6 400.8,278.5 401.3,279.7 401.8,281 402.3,282.5 402.8,284.2 403.3,286.1 403.8,288.2 404.3,290.4 404.8,292.7 405.3,295.2 405.8,297.9 406.3,300.6 406.8,303.5 407.3,306.4 407.8,309.5 408.3,312.6 408.8,315.7 409.3,318.9 409.8,322.1 410.3,325.4 410.8,328.6 411.3,331.9 411.8,335.1 412.3,338.3 412.8,341.5 413.3,344.6 413.8,347.7 414.3,350.7 414.8,353.6 415.3,356.4 415.8,359.2 416.3,361.9 416.8,364.4 417.3,366.9 417.8,369.3 418.3,371.6 418.8,373.8 419.3,375.9 419.8,377.9 420.3,379.8 420.8,381.6 421.3,383.3 421.8,384.9 422.3,386.5 422.8,387.9 423.3,389.3 423.8,390.5 424.3,391.7 424.8,392.9 425.3,393.9 425.8,394.9 426.3,395.8 426.8,396.6 427.3,397.4 427.8,398.1 428.3,398.8 428.8,399.4 429.3,400 429.8,400.5 430.3,401 430.8,401.5 431.3,402 431.8,402.4 432.3,402.8 432.8,403.2 433.3,403.5 433.8,403.9 434.3,404.2 434.8,404.5 435.3,404.7 435.8,405 436.3,405.3 436.8,405.5 437.3,405.8 437.8,406 438.3,406.2 438.8,406.4 439.3,406.7 439.8,406.9 440.3,407.1 440.8,407.3 441.3,407.6 441.8,407.8 442.3,408 442.8,408.3 443.3,408.5 443.8,408.8 444.3,409 444.8,409.2 445.3,409.4 445.8,409.7 446.3,409.9 446.8,410 447.3,410.2 447.8,410.4 448.3,410.5 448.8,410.7 449.3,410.8 449.8,410.9 450.3,411.1 450.8,411.2 451.3,411.3 451.8,411.4 452.3,411.5 452.8,411.6 453.3,411.6 453.8,411.7 454.3,411.8 454.8,411.9 455.3,411.9 455.8,412 456.3,412.1 456.8,412.1 457.3,412.2 457.8,412.2 458.3,412.3 458.8,412.3 459.3,412.4 459.8,412.4 460.3,412.5 460.8,412.5 461.3,412.6 461.8,412.6 462.3,412.7 462.8,412.7 463.3,412.7 463.8,412.8 464.3,412.8 464.8,412.9 465.3,412.9 465.8,413 466.3,413 466.8,413.1 467.3,413.1 467.8,413.1 468.3,413.2 468.8,413.2 469.3,413.3 469.8,413.3" fill="none" stroke="#2277ee" stroke-width="1.3"/>
<path d="M334.3,354.4 334.8,354.4 335.3,354.5 335.8,354.5 336.3,354.6 336.8,354.6 337.3,354.7 337.8,354.7 338.3,354.8 338.8,354.8 339.3,354.9 339.8,354.9 340.3,355 340.8,355.1 341.3,355.1 341.8,355.2 342.3,355.2 342.8,355.3 343.3,355.3 343.8,355.4 344.3,355.4 344.8,355.5 345.3,355.6 345.8,355.6 346.3,355.7 346.8,355.7 347.3,355.8 347.8,355.8 348.3,355.9 348.8,356 349.3,356 349.8,356.1 350.3,356.2 350.8,356.2 351.3,356.3 351.8,356.3 352.3,356.4 352.8,356.5 353.3,356.5 353.8,356.6 354.3,356.6 354.8,356.7 355.3,356.7 355.8,356.8 356.3,356.8 356.8,356.9 357.3,356.9 357.8,357 358.3,357.1 358.8,357.1 359.3,357.2 359.8,357.3 360.3,357.4 360.8,357.5 361.3,357.7 361.8,357.8 362.3,357.9 362.8,358.1 363.3,358.2 363.8,358.4 364.3,358.5 364.8,358.7 365.3,358.8 365.8,359 366.3,359.2 366.8,359.3 367.3,359.5 367.8,359.7 368.3,359.9 368.8,360 369.3,360.2 369.8,360.4 370.3,360.6 370.8,360.8 371.3,361 371.8,361.2 372.3,361.3 372.8,361.5 373.3,361.7 373.8,361.9 374.3,362.1 374.8,362.3 375.3,362.5 375.8,362.7 376.3,362.9 376.8,363.1 377.3,363.3 377.8,363.6 378.3,363.8 378.8,364 379.3,364.2 379.8,364.4 380.3,364.6 380.8,364.9 381.3,365.1 381.8,365.3 382.3,365.6 382.8,365.8 383.3,366.1 383.8,366.3 384.3,366.6 384.8,366.8 385.3,367.1 385.8,367.4 386.3,367.7 386.8,367.9 387.3,368.2 387.8,368.5 388.3,368.8 388.8,369.2 389.3,369.5 389.8,369.8 390.3,370.2 390.8,370.5 391.3,370.9 391.8,371.2 392.3,371.6 392.8,372 393.3,372.4 393.8,372.8 394.3,373.2 394.8,373.6 395.3,374.1 395.8,374.5 396.3,374.9 396.8,375.4 397.3,375.8 397.8,376.3 398.3,376.7 398.8,377.2 399.3,377.7 399.8,378.2 400.3,378.7 400.8,379.2 401.3,379.7 401.8,380.2 402.3,380.8 402.8,381.3 403.3,381.8 403.8,382.3 404.3,382.8 404.8,383.3 405.3,383.8 405.8,384.3 406.3,384.8 406.8,385.3 407.3,385.9 407.8,386.4 408.3,386.9 408.8,387.4 409.3,387.9 409.8,388.5 410.3,389 410.8,389.5 411.3,390 411.8,390.5 412.3,391 412.8,391.5 413.3,392 413.8,392.5 414.3,393 414.8,393.5 415.3,393.9 415.8,394.4 416.3,394.8 416.8,395.3 417.3,395.7 417.8,396.1 418.3,396.5 418.8,396.9 419.3,397.3 419.8,397.7 420.3,398.1 420.8,398.4 421.3,398.8 421.8,399.1 422.3,399.5 422.8,399.8 423.3,400.1 423.8,400.4 424.3,400.7 424.8,401 425.3,401.3 425.8,401.6 426.3,401.8 426.8,402.1 427.3,402.3 427.8,402.6 428.3,402.8 428.8,403 429.3,403.2 429.8,403.4 430.3,403.6 430.8,403.8 431.3,404 431.8,404.2 432.3,404.4 432.8,404.6 433.3,404.8 433.8,405 434.3,405.2 434.8,405.4 435.3,405.6 435.8,405.8 436.3,405.9 436.8,406.1 437.3,406.3 437.8,406.5 438.3,406.7 438.8,406.8 439.3,407 439.8,407.2 440.3,407.4 440.8,407.6 441.3,407.8 441.8,408.1 442.3,408.3 442.8,408.5 443.3,408.7 443.8,409 444.3,409.2 444.8,409.4 445.3,409.6 445.8,409.8 446.3,410 446.8,410.2 447.3,410.4 447.8,410.5 448.3,410.7 448.8,410.8 449.3,410.9 449.8,411.1 450.3,411.2 450.8,411.3 451.3,411.4 451.8,411.5 452.3,411.6 452.8,411.7 453.3,411.8 453.8,411.8 454.3,411.9 454.8,412 455.3,412.1 455.8,412.1 456.3,412.2 456.8,412.2 457.3,412.3 457.8,412.3 458.3,412.4 458.8,412.4 459.3,412.5 459.8,412.5 460.3,412.6 460.8,412.6 461.3,412.7 461.8,412.7 462.3,412.7 462.8,412.8 463.3,412.8 463.8,412.9 464.3,412.9 464.8,413 465.3,413 465.8,413 466.3,413.1 466.8,413.1 467.3,413.2 467.8,413.2 468.3,413.3 468.8,413.3 469.3,413.3 469.8,413.4 470.3,413.4 470.8,413.5 471.3,413.5 471.8,413.5 472.3,413.6 472.8,413.6 473.3,413.6 473.8,413.7 474.3,413.7 474.8,413.7 475.3,413.7 475.8,413.8 476.3,413.8 476.8,413.8 477.3,413.8 477.8,413.8 478.3,413.8 478.8,413.8 479.3,413.8 479.8,413.8 480.3,413.8 480.8,413.8 481.3,413.8 481.8,413.8 482.3,413.7 482.8,413.7 483.3,413.6 483.8,413.6 484.3,413.5 484.8,413.4 485.3,413.3 485.8,413.1 486.3,413 486.8,412.8 487.3,412.6 487.8,412.4 488.3,412.1 488.8,411.8 489.3,411.5 489.8,411.2 490.3,410.9 490.8,410.5 491.3,410.2 491.8,409.8 492.3,409.5 492.8,409.2 493.3,408.9 493.8,408.6 494.3,408.3 494.8,408.1 495.3,407.8 495.8,407.6 496.3,407.3 496.8,407.1 497.3,406.8 497.8,406.6 498.3,406.4 498.8,406.1 499.3,405.9 499.8,405.6 500.3,405.4 500.8,405.2 501.3,404.9 501.8,404.7 502.3,404.4 502.8,404.2 503.3,403.9 503.8,403.7 504.3,403.4 504.8,403.2 505.3,402.9 505.8,402.7 506.3,402.4 506.8,402.2 507.3,401.9 507.8,401.6 508.3,401.3 508.8,401.1 509.3,400.8 509.8,400.5 510.3,400.2 510.8,399.9 511.3,399.6 511.8,399.3 512.3,399 512.8,398.7 513.3,398.4 513.8,398.1 514.3,397.8 514.8,397.4 515.3,397.1 515.8,396.8 516.3,396.5 516.8,396.2 517.3,395.8 517.8,395.5 518.3,395.2 518.8,394.9 519.3,394.6 519.8,394.2 520.3,393.9 520.8,393.6 521.3,393.3 521.8,392.9 522.3,392.6 522.8,392.3 523.3,392 523.8,391.7" fill="none" stroke="#111" stroke-width="1.3"/>
<path d="M398.8,278 V433.4 M424.8,331 V433.4" stroke="#5a5a5a" stroke-width="1.7" stroke-dasharray="3.3 1.6" fill="none"/>
<path d="M334.3,354.1 334.8,354.1 335.3,354.2 335.8,354.2 336.3,354.2 336.8,354.3 337.3,354.3 337.8,354.4 338.3,354.4 338.8,354.5 339.3,354.5 339.8,354.6 340.3,354.6 340.8,354.7 341.3,354.7 341.8,354.8 342.3,354.8 342.8,354.9 343.3,354.9 343.8,355 344.3,355 344.8,355.1 345.3,355.1 345.8,355.2 346.3,355.2 346.8,355.3 347.3,355.3 347.8,355.4 348.3,355.4 348.8,355.5 349.3,355.5 349.8,355.6 350.3,355.6 350.8,355.7 351.3,355.8 351.8,355.8 352.3,355.9 352.8,355.9 353.3,355.9 353.8,356 354.3,356 354.8,356 355.3,356.1 355.8,356.1 356.3,356.1 356.8,356.2 357.3,356.2 357.8,356.2 358.3,356.3 358.8,356.3 359.3,356.4 359.8,356.4 360.3,356.5 360.8,356.5 361.3,356.6 361.8,356.6 362.3,356.7 362.8,356.8 363.3,356.8 363.8,356.8 364.3,356.9 364.8,356.9 365.3,356.9 365.8,356.9 366.3,356.9 366.8,356.8 367.3,356.8 367.8,356.7 368.3,356.6 368.8,356.4 369.3,356.2 369.8,356 370.3,355.8 370.8,355.5 371.3,355.2 371.8,354.8 372.3,354.4 372.8,353.9 373.3,353.4 373.8,352.8 374.3,352.2 374.8,351.5 375.3,350.7 375.8,349.9 376.3,348.9 376.8,347.9 377.3,346.9 377.8,345.7 378.3,344.5 378.8,343.2 379.3,341.8 379.8,340.3 380.3,338.7 380.8,337.1 381.3,335.4 381.8,333.5 382.3,331.7 382.8,329.7 383.3,327.7 383.8,325.5 384.3,323.4 384.8,321.1 385.3,318.9 385.8,316.5 386.3,314.1 386.8,311.7 387.3,309.3 387.8,306.9 388.3,304.4 388.8,302 389.3,299.5 389.8,297.1 390.3,294.8 390.8,292.4 391.3,290.2 391.8,288 392.3,285.8 392.8,283.8 393.3,281.9 393.8,280 394.3,278.3 394.8,276.7 395.3,275.3 395.8,273.9 396.3,272.7 396.8,271.7 397.3,270.8 397.8,270.1 398.3,269.6 398.8,269.2 399.3,269 399.8,269 400.3,269.1 400.8,269.4 401.3,269.8 401.8,270.4 402.3,271.1 402.8,272 403.3,273 403.8,274.1 404.3,275.4 404.8,276.7 405.3,278.1 405.8,279.5 406.3,281.1 406.8,282.6 407.3,284.3 407.8,285.9 408.3,287.6 408.8,289.3 409.3,291 409.8,292.6 410.3,294.3 410.8,295.9 411.3,297.4 411.8,298.9 412.3,300.4 412.8,301.8 413.3,303.1 413.8,304.3 414.3,305.5 414.8,306.6 415.3,307.7 415.8,308.6 416.3,309.5 416.8,310.4 417.3,311.1 417.8,311.9 418.3,312.6 418.8,313.2 419.3,313.8 419.8,314.4 420.3,315 420.8,315.5 421.3,316.1 421.8,316.7 422.3,317.3 422.8,318 423.3,318.6 423.8,319.4 424.3,320.2 424.8,321 425.3,321.9 425.8,322.9 426.3,324 426.8,325.2 427.3,326.4 427.8,327.8 428.3,329.3 428.8,330.9 429.3,332.5 429.8,334.3 430.3,336.2 430.8,338.1 431.3,340.1 431.8,342.1 432.3,344.3 432.8,346.4 433.3,348.6 433.8,350.8 434.3,353.1 434.8,355.3 435.3,357.6 435.8,359.8 436.3,362.1 436.8,364.3 437.3,366.5 437.8,368.6 438.3,370.8 438.8,372.9 439.3,374.9 439.8,376.9 440.3,378.9 440.8,380.8 441.3,382.6 441.8,384.4 442.3,386.1 442.8,387.8 443.3,389.4 443.8,391 444.3,392.4 444.8,393.8 445.3,395.1 445.8,396.4 446.3,397.6 446.8,398.7 447.3,399.7 447.8,400.7 448.3,401.6 448.8,402.4 449.3,403.2 449.8,403.9 450.3,404.6 450.8,405.2 451.3,405.8 451.8,406.3 452.3,406.8 452.8,407.2 453.3,407.7 453.8,408 454.3,408.4 454.8,408.7 455.3,409 455.8,409.3 456.3,409.5 456.8,409.8 457.3,410 457.8,410.2 458.3,410.3 458.8,410.5 459.3,410.6 459.8,410.8 460.3,410.9 460.8,411 461.3,411.1 461.8,411.2 462.3,411.3 462.8,411.4 463.3,411.5 463.8,411.6 464.3,411.7 464.8,411.8 465.3,411.9 465.8,411.9 466.3,412 466.8,412.1 467.3,412.2 467.8,412.2 468.3,412.3 468.8,412.4 469.3,412.4 469.8,412.5 470.3,412.5 470.8,412.6 471.3,412.7 471.8,412.7 472.3,412.8 472.8,412.8 473.3,412.9 473.8,412.9 474.3,412.9 474.8,413 475.3,413 475.8,413.1 476.3,413.1 476.8,413.1 477.3,413.2 477.8,413.2 478.3,413.2 478.8,413.2 479.3,413.2 479.8,413.2 480.3,413.2 480.8,413.2 481.3,413.2 481.8,413.2 482.3,413.2 482.8,413.1 483.3,413.1 483.8,413 484.3,413 484.8,412.9 485.3,412.8 485.8,412.6 486.3,412.5 486.8,412.3 487.3,412.1 487.8,411.9 488.3,411.7 488.8,411.4 489.3,411.1 489.8,410.8 490.3,410.4 490.8,410.1 491.3,409.7 491.8,409.4 492.3,409.1 492.8,408.7 493.3,408.4 493.8,408.2 494.3,407.9 494.8,407.7 495.3,407.4 495.8,407.2 496.3,406.9 496.8,406.7 497.3,406.5 497.8,406.2 498.3,406 498.8,405.8 499.3,405.5 499.8,405.3 500.3,405.1 500.8,404.8 501.3,404.6 501.8,404.4 502.3,404.1 502.8,403.9 503.3,403.6 503.8,403.4 504.3,403.1 504.8,402.9 505.3,402.6 505.8,402.4 506.3,402.1 506.8,401.9 507.3,401.6 507.8,401.3 508.3,401.1 508.8,400.8 509.3,400.5 509.8,400.2 510.3,399.9 510.8,399.7 511.3,399.4 511.8,399.1 512.3,398.8 512.8,398.5 513.3,398.1 513.8,397.8 514.3,397.5 514.8,397.2 515.3,396.9 515.8,396.6 516.3,396.3 516.8,395.9 517.3,395.6 517.8,395.3 518.3,395 518.8,394.7 519.3,394.3 519.8,394 520.3,393.7 520.8,393.4 521.3,393.1 521.8,392.7 522.3,392.4 522.8,392.1 523.3,391.8 523.8,391.5" fill="none" stroke="#f6b41c" stroke-width="1.35"/>
<text x="297.3" y="338" text-anchor="middle" style="font-family:'Liberation Serif',serif;font-size:9.7px;font-weight:bold" fill="#222" stroke="#222" transform="rotate(-90 297.3 338)">Intensity (a.u)</text>
<text x="422.8" y="456.7" text-anchor="middle" style="font-family:'Liberation Serif',serif;font-size:9.8px;font-weight:bold" fill="#222" stroke="#222">Binding energy (eV)</text>
<text x="297.5" y="252.7" text-anchor="middle" style="font-family:'Liberation Serif',serif;font-size:19px;font-weight:bold" fill="#000" stroke="#000">d</text>
<text x="320.1" y="269.3" text-anchor="start" style="font-family:'Liberation Serif',serif;font-size:9.7px;font-weight:bold" fill="#111" stroke="#111">Cu LMM</text>
<text x="368.8" y="275" text-anchor="start" style="font-family:'Liberation Serif',serif;font-size:9.6px" fill="#2277ee" stroke="#2277ee">Cu(I)</text>
<text x="430.3" y="319.3" text-anchor="start" style="font-family:'Liberation Serif',serif;font-size:10px" fill="#e83030" stroke="#e83030">Cu(0)</text>
</svg></body></html>
